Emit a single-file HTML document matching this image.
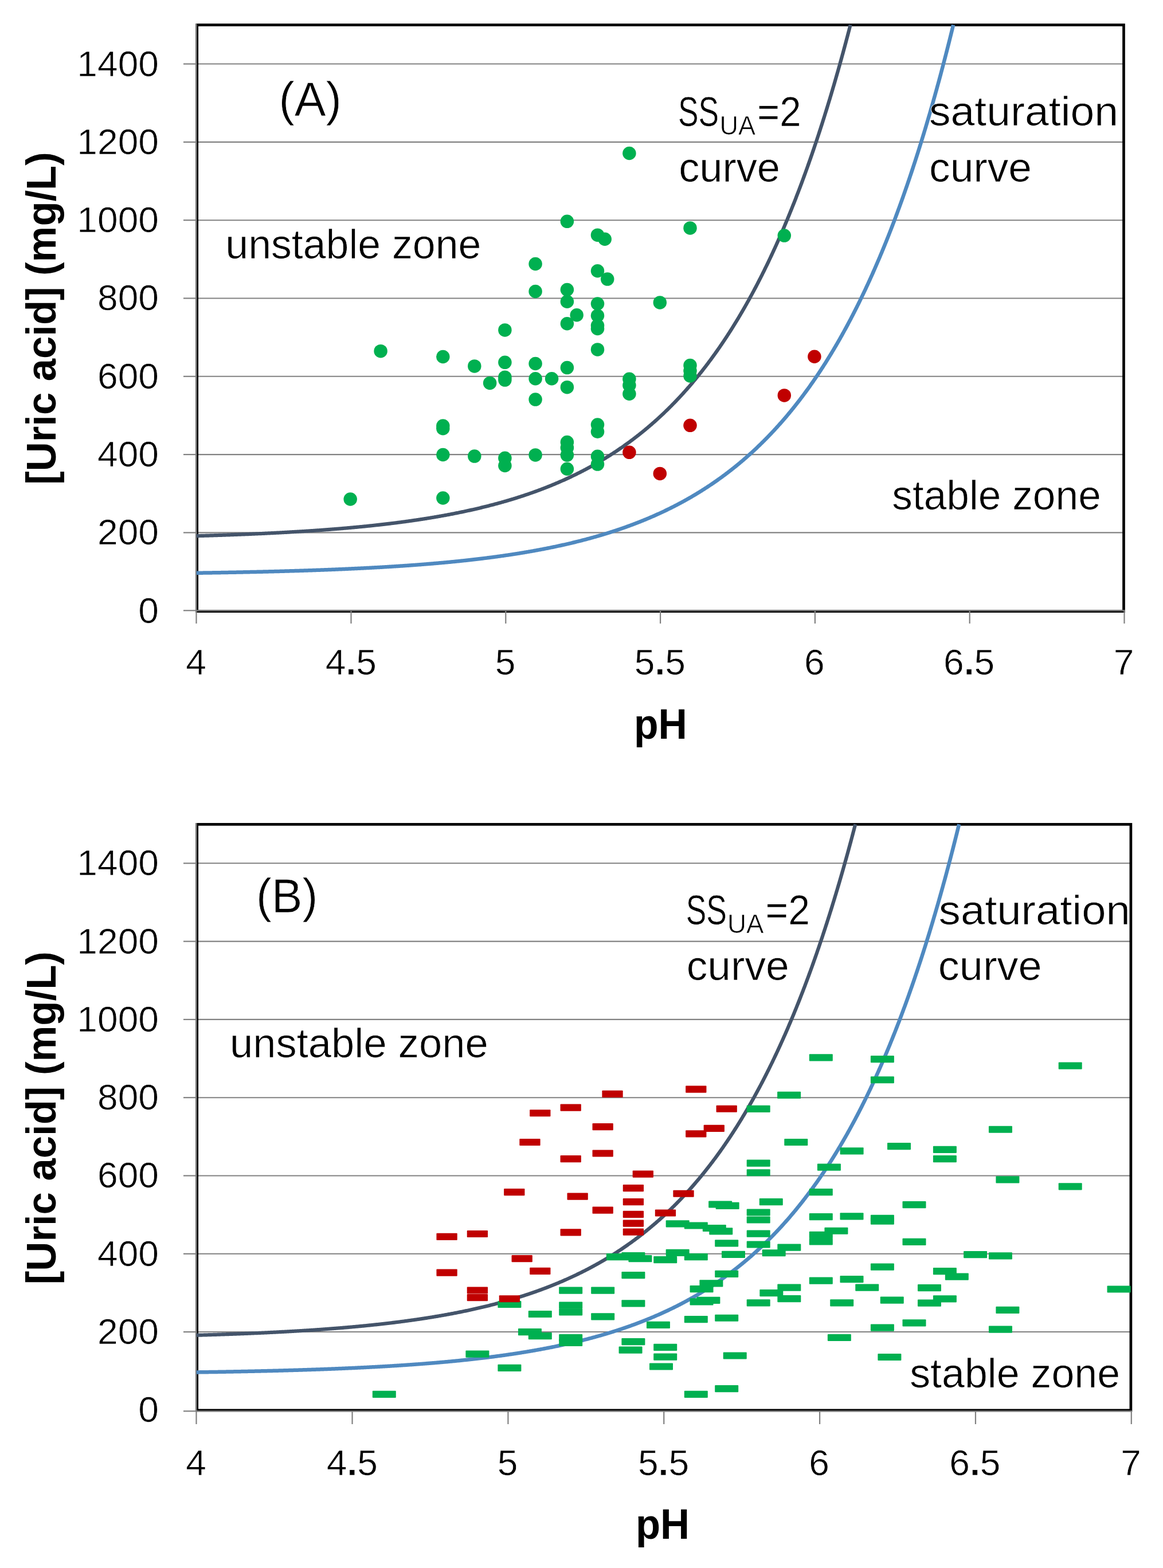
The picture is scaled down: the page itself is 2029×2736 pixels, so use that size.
<!DOCTYPE html>
<html><head><meta charset="utf-8"><title>Uric acid vs pH</title>
<style>
html,body{margin:0;padding:0;background:#fff;overflow:hidden;}
svg{display:block;}
text{font-family:"Liberation Sans",Arial,sans-serif;fill:#000;font-kerning:none;}
text.t{stroke:#fff;stroke-width:0.7px;}
</style></head><body>
<svg width="2029" height="2736" viewBox="0 0 2029 2736">
<rect x="0" y="0" width="2029" height="2736" fill="#fff"/>
<line x1="342.70" y1="929.40" x2="1961.50" y2="929.40" stroke="#818181" stroke-width="2.1"/>
<line x1="342.70" y1="793.09" x2="1961.50" y2="793.09" stroke="#818181" stroke-width="2.1"/>
<line x1="342.70" y1="656.79" x2="1961.50" y2="656.79" stroke="#818181" stroke-width="2.1"/>
<line x1="342.70" y1="520.48" x2="1961.50" y2="520.48" stroke="#818181" stroke-width="2.1"/>
<line x1="342.70" y1="384.18" x2="1961.50" y2="384.18" stroke="#818181" stroke-width="2.1"/>
<line x1="342.70" y1="247.88" x2="1961.50" y2="247.88" stroke="#818181" stroke-width="2.1"/>
<line x1="342.70" y1="111.57" x2="1961.50" y2="111.57" stroke="#818181" stroke-width="2.1"/>
<rect x="343.70" y="43.50" width="1616.80" height="1023.10" fill="none" stroke="#000" stroke-width="4.7"/>
<line x1="342.50" y1="41.20" x2="342.50" y2="1065.30" stroke="#818181" stroke-width="2.2"/>
<line x1="342.50" y1="1065.30" x2="1962.80" y2="1065.30" stroke="#818181" stroke-width="2.2"/>
<path d="M342.70,935.17 L343.78,935.14 L344.86,935.11 L345.94,935.08 L347.02,935.04 L348.10,935.01 L349.18,934.98 L350.25,934.95 L351.33,934.92 L352.41,934.89 L353.49,934.86 L354.57,934.82 L355.65,934.79 L356.73,934.76 L357.81,934.73 L358.89,934.69 L359.97,934.66 L361.05,934.63 L362.13,934.59 L363.20,934.56 L364.28,934.53 L365.36,934.49 L366.44,934.46 L367.52,934.43 L368.60,934.39 L369.68,934.36 L370.76,934.32 L371.84,934.29 L372.92,934.25 L374.00,934.22 L375.08,934.18 L376.16,934.15 L377.23,934.11 L378.31,934.08 L379.39,934.04 L380.47,934.01 L381.55,933.97 L382.63,933.93 L383.71,933.90 L384.79,933.86 L385.87,933.82 L386.95,933.79 L388.03,933.75 L389.11,933.71 L390.18,933.68 L391.26,933.64 L392.34,933.60 L393.42,933.56 L394.50,933.52 L395.58,933.49 L396.66,933.45 L397.74,933.41 L398.82,933.37 L399.90,933.33 L400.98,933.29 L402.06,933.25 L403.14,933.21 L404.21,933.17 L405.29,933.13 L406.37,933.09 L407.45,933.05 L408.53,933.01 L409.61,932.97 L410.69,932.93 L411.77,932.89 L412.85,932.85 L413.93,932.81 L415.01,932.76 L416.09,932.72 L417.16,932.68 L418.24,932.64 L419.32,932.60 L420.40,932.55 L421.48,932.51 L422.56,932.47 L423.64,932.42 L424.72,932.38 L425.80,932.34 L426.88,932.29 L427.96,932.25 L429.04,932.20 L430.12,932.16 L431.19,932.12 L432.27,932.07 L433.35,932.03 L434.43,931.98 L435.51,931.93 L436.59,931.89 L437.67,931.84 L438.75,931.80 L439.83,931.75 L440.91,931.70 L441.99,931.66 L443.07,931.61 L444.14,931.56 L445.22,931.51 L446.30,931.47 L447.38,931.42 L448.46,931.37 L449.54,931.32 L450.62,931.27 L451.70,931.23 L452.78,931.18 L453.86,931.13 L454.94,931.08 L456.02,931.03 L457.10,930.98 L458.17,930.93 L459.25,930.88 L460.33,930.83 L461.41,930.78 L462.49,930.72 L463.57,930.67 L464.65,930.62 L465.73,930.57 L466.81,930.52 L467.89,930.47 L468.97,930.41 L470.05,930.36 L471.12,930.31 L472.20,930.25 L473.28,930.20 L474.36,930.15 L475.44,930.09 L476.52,930.04 L477.60,929.98 L478.68,929.93 L479.76,929.87 L480.84,929.82 L481.92,929.76 L483.00,929.71 L484.08,929.65 L485.15,929.59 L486.23,929.54 L487.31,929.48 L488.39,929.42 L489.47,929.37 L490.55,929.31 L491.63,929.25 L492.71,929.19 L493.79,929.13 L494.87,929.07 L495.95,929.02 L497.03,928.96 L498.10,928.90 L499.18,928.84 L500.26,928.78 L501.34,928.72 L502.42,928.66 L503.50,928.59 L504.58,928.53 L505.66,928.47 L506.74,928.41 L507.82,928.35 L508.90,928.28 L509.98,928.22 L511.06,928.16 L512.13,928.10 L513.21,928.03 L514.29,927.97 L515.37,927.90 L516.45,927.84 L517.53,927.77 L518.61,927.71 L519.69,927.64 L520.77,927.58 L521.85,927.51 L522.93,927.45 L524.01,927.38 L525.08,927.31 L526.16,927.25 L527.24,927.18 L528.32,927.11 L529.40,927.04 L530.48,926.97 L531.56,926.90 L532.64,926.83 L533.72,926.77 L534.80,926.70 L535.88,926.63 L536.96,926.55 L538.04,926.48 L539.11,926.41 L540.19,926.34 L541.27,926.27 L542.35,926.20 L543.43,926.12 L544.51,926.05 L545.59,925.98 L546.67,925.91 L547.75,925.83 L548.83,925.76 L549.91,925.68 L550.99,925.61 L552.06,925.53 L553.14,925.46 L554.22,925.38 L555.30,925.31 L556.38,925.23 L557.46,925.15 L558.54,925.07 L559.62,925.00 L560.70,924.92 L561.78,924.84 L562.86,924.76 L563.94,924.68 L565.02,924.60 L566.09,924.52 L567.17,924.44 L568.25,924.36 L569.33,924.28 L570.41,924.20 L571.49,924.12 L572.57,924.04 L573.65,923.95 L574.73,923.87 L575.81,923.79 L576.89,923.70 L577.97,923.62 L579.04,923.53 L580.12,923.45 L581.20,923.36 L582.28,923.28 L583.36,923.19 L584.44,923.11 L585.52,923.02 L586.60,922.93 L587.68,922.84 L588.76,922.76 L589.84,922.67 L590.92,922.58 L592.00,922.49 L593.07,922.40 L594.15,922.31 L595.23,922.22 L596.31,922.13 L597.39,922.04 L598.47,921.94 L599.55,921.85 L600.63,921.76 L601.71,921.67 L602.79,921.57 L603.87,921.48 L604.95,921.38 L606.02,921.29 L607.10,921.19 L608.18,921.10 L609.26,921.00 L610.34,920.90 L611.42,920.81 L612.50,920.71 L613.58,920.61 L614.66,920.51 L615.74,920.41 L616.82,920.31 L617.90,920.21 L618.98,920.11 L620.05,920.01 L621.13,919.91 L622.21,919.81 L623.29,919.71 L624.37,919.61 L625.45,919.50 L626.53,919.40 L627.61,919.29 L628.69,919.19 L629.77,919.08 L630.85,918.98 L631.93,918.87 L633.00,918.77 L634.08,918.66 L635.16,918.55 L636.24,918.44 L637.32,918.33 L638.40,918.23 L639.48,918.12 L640.56,918.01 L641.64,917.90 L642.72,917.78 L643.80,917.67 L644.88,917.56 L645.96,917.45 L647.03,917.33 L648.11,917.22 L649.19,917.11 L650.27,916.99 L651.35,916.88 L652.43,916.76 L653.51,916.64 L654.59,916.53 L655.67,916.41 L656.75,916.29 L657.83,916.17 L658.91,916.05 L659.98,915.93 L661.06,915.81 L662.14,915.69 L663.22,915.57 L664.30,915.45 L665.38,915.33 L666.46,915.20 L667.54,915.08 L668.62,914.95 L669.70,914.83 L670.78,914.70 L671.86,914.58 L672.94,914.45 L674.01,914.32 L675.09,914.20 L676.17,914.07 L677.25,913.94 L678.33,913.81 L679.41,913.68 L680.49,913.55 L681.57,913.42 L682.65,913.28 L683.73,913.15 L684.81,913.02 L685.89,912.88 L686.96,912.75 L688.04,912.62 L689.12,912.48 L690.20,912.34 L691.28,912.21 L692.36,912.07 L693.44,911.93 L694.52,911.79 L695.60,911.65 L696.68,911.51 L697.76,911.37 L698.84,911.23 L699.92,911.09 L700.99,910.94 L702.07,910.80 L703.15,910.66 L704.23,910.51 L705.31,910.36 L706.39,910.22 L707.47,910.07 L708.55,909.92 L709.63,909.78 L710.71,909.63 L711.79,909.48 L712.87,909.33 L713.94,909.18 L715.02,909.02 L716.10,908.87 L717.18,908.72 L718.26,908.56 L719.34,908.41 L720.42,908.25 L721.50,908.10 L722.58,907.94 L723.66,907.78 L724.74,907.62 L725.82,907.47 L726.90,907.31 L727.97,907.15 L729.05,906.98 L730.13,906.82 L731.21,906.66 L732.29,906.50 L733.37,906.33 L734.45,906.17 L735.53,906.00 L736.61,905.83 L737.69,905.67 L738.77,905.50 L739.85,905.33 L740.92,905.16 L742.00,904.99 L743.08,904.82 L744.16,904.65 L745.24,904.47 L746.32,904.30 L747.40,904.12 L748.48,903.95 L749.56,903.77 L750.64,903.60 L751.72,903.42 L752.80,903.24 L753.88,903.06 L754.95,902.88 L756.03,902.70 L757.11,902.52 L758.19,902.33 L759.27,902.15 L760.35,901.96 L761.43,901.78 L762.51,901.59 L763.59,901.41 L764.67,901.22 L765.75,901.03 L766.83,900.84 L767.90,900.65 L768.98,900.46 L770.06,900.26 L771.14,900.07 L772.22,899.88 L773.30,899.68 L774.38,899.49 L775.46,899.29 L776.54,899.09 L777.62,898.89 L778.70,898.69 L779.78,898.49 L780.86,898.29 L781.93,898.09 L783.01,897.88 L784.09,897.68 L785.17,897.47 L786.25,897.27 L787.33,897.06 L788.41,896.85 L789.49,896.64 L790.57,896.43 L791.65,896.22 L792.73,896.01 L793.81,895.80 L794.88,895.58 L795.96,895.37 L797.04,895.15 L798.12,894.93 L799.20,894.71 L800.28,894.49 L801.36,894.27 L802.44,894.05 L803.52,893.83 L804.60,893.61 L805.68,893.38 L806.76,893.16 L807.84,892.93 L808.91,892.70 L809.99,892.48 L811.07,892.25 L812.15,892.01 L813.23,891.78 L814.31,891.55 L815.39,891.32 L816.47,891.08 L817.55,890.84 L818.63,890.61 L819.71,890.37 L820.79,890.13 L821.86,889.89 L822.94,889.65 L824.02,889.40 L825.10,889.16 L826.18,888.92 L827.26,888.67 L828.34,888.42 L829.42,888.17 L830.50,887.92 L831.58,887.67 L832.66,887.42 L833.74,887.17 L834.82,886.91 L835.89,886.66 L836.97,886.40 L838.05,886.14 L839.13,885.88 L840.21,885.62 L841.29,885.36 L842.37,885.10 L843.45,884.83 L844.53,884.57 L845.61,884.30 L846.69,884.03 L847.77,883.77 L848.84,883.49 L849.92,883.22 L851.00,882.95 L852.08,882.68 L853.16,882.40 L854.24,882.12 L855.32,881.85 L856.40,881.57 L857.48,881.29 L858.56,881.00 L859.64,880.72 L860.72,880.44 L861.80,880.15 L862.87,879.86 L863.95,879.58 L865.03,879.29 L866.11,878.99 L867.19,878.70 L868.27,878.41 L869.35,878.11 L870.43,877.82 L871.51,877.52 L872.59,877.22 L873.67,876.92 L874.75,876.62 L875.82,876.31 L876.90,876.01 L877.98,875.70 L879.06,875.39 L880.14,875.08 L881.22,874.77 L882.30,874.46 L883.38,874.15 L884.46,873.83 L885.54,873.52 L886.62,873.20 L887.70,872.88 L888.78,872.56 L889.85,872.23 L890.93,871.91 L892.01,871.58 L893.09,871.26 L894.17,870.93 L895.25,870.60 L896.33,870.27 L897.41,869.93 L898.49,869.60 L899.57,869.26 L900.65,868.93 L901.73,868.59 L902.80,868.24 L903.88,867.90 L904.96,867.56 L906.04,867.21 L907.12,866.86 L908.20,866.52 L909.28,866.16 L910.36,865.81 L911.44,865.46 L912.52,865.10 L913.60,864.75 L914.68,864.39 L915.76,864.03 L916.83,863.66 L917.91,863.30 L918.99,862.93 L920.07,862.57 L921.15,862.20 L922.23,861.83 L923.31,861.45 L924.39,861.08 L925.47,860.70 L926.55,860.33 L927.63,859.95 L928.71,859.56 L929.78,859.18 L930.86,858.80 L931.94,858.41 L933.02,858.02 L934.10,857.63 L935.18,857.24 L936.26,856.85 L937.34,856.45 L938.42,856.05 L939.50,855.65 L940.58,855.25 L941.66,854.85 L942.74,854.44 L943.81,854.04 L944.89,853.63 L945.97,853.22 L947.05,852.80 L948.13,852.39 L949.21,851.97 L950.29,851.55 L951.37,851.13 L952.45,850.71 L953.53,850.29 L954.61,849.86 L955.69,849.43 L956.76,849.00 L957.84,848.57 L958.92,848.13 L960.00,847.70 L961.08,847.26 L962.16,846.82 L963.24,846.38 L964.32,845.93 L965.40,845.49 L966.48,845.04 L967.56,844.59 L968.64,844.13 L969.72,843.68 L970.79,843.22 L971.87,842.76 L972.95,842.30 L974.03,841.84 L975.11,841.37 L976.19,840.90 L977.27,840.43 L978.35,839.96 L979.43,839.49 L980.51,839.01 L981.59,838.53 L982.67,838.05 L983.74,837.57 L984.82,837.08 L985.90,836.59 L986.98,836.10 L988.06,835.61 L989.14,835.11 L990.22,834.62 L991.30,834.12 L992.38,833.62 L993.46,833.11 L994.54,832.61 L995.62,832.10 L996.70,831.59 L997.77,831.07 L998.85,830.56 L999.93,830.04 L1001.01,829.52 L1002.09,828.99 L1003.17,828.47 L1004.25,827.94 L1005.33,827.41 L1006.41,826.88 L1007.49,826.34 L1008.57,825.80 L1009.65,825.26 L1010.72,824.72 L1011.80,824.17 L1012.88,823.63 L1013.96,823.08 L1015.04,822.52 L1016.12,821.97 L1017.20,821.41 L1018.28,820.85 L1019.36,820.28 L1020.44,819.72 L1021.52,819.15 L1022.60,818.58 L1023.68,818.00 L1024.75,817.43 L1025.83,816.85 L1026.91,816.26 L1027.99,815.68 L1029.07,815.09 L1030.15,814.50 L1031.23,813.91 L1032.31,813.31 L1033.39,812.71 L1034.47,812.11 L1035.55,811.51 L1036.63,810.90 L1037.70,810.29 L1038.78,809.68 L1039.86,809.06 L1040.94,808.44 L1042.02,807.82 L1043.10,807.20 L1044.18,806.57 L1045.26,805.94 L1046.34,805.31 L1047.42,804.67 L1048.50,804.03 L1049.58,803.39 L1050.66,802.75 L1051.73,802.10 L1052.81,801.45 L1053.89,800.79 L1054.97,800.14 L1056.05,799.48 L1057.13,798.81 L1058.21,798.15 L1059.29,797.48 L1060.37,796.80 L1061.45,796.13 L1062.53,795.45 L1063.61,794.77 L1064.68,794.08 L1065.76,793.39 L1066.84,792.70 L1067.92,792.01 L1069.00,791.31 L1070.08,790.61 L1071.16,789.90 L1072.24,789.20 L1073.32,788.48 L1074.40,787.77 L1075.48,787.05 L1076.56,786.33 L1077.64,785.61 L1078.71,784.88 L1079.79,784.15 L1080.87,783.41 L1081.95,782.67 L1083.03,781.93 L1084.11,781.19 L1085.19,780.44 L1086.27,779.69 L1087.35,778.93 L1088.43,778.17 L1089.51,777.41 L1090.59,776.64 L1091.66,775.88 L1092.74,775.10 L1093.82,774.33 L1094.90,773.54 L1095.98,772.76 L1097.06,771.97 L1098.14,771.18 L1099.22,770.39 L1100.30,769.59 L1101.38,768.78 L1102.46,767.98 L1103.54,767.17 L1104.62,766.35 L1105.69,765.54 L1106.77,764.72 L1107.85,763.89 L1108.93,763.06 L1110.01,762.23 L1111.09,761.39 L1112.17,760.55 L1113.25,759.71 L1114.33,758.86 L1115.41,758.00 L1116.49,757.15 L1117.57,756.29 L1118.64,755.42 L1119.72,754.55 L1120.80,753.68 L1121.88,752.81 L1122.96,751.92 L1124.04,751.04 L1125.12,750.15 L1126.20,749.26 L1127.28,748.36 L1128.36,747.46 L1129.44,746.55 L1130.52,745.64 L1131.60,744.73 L1132.67,743.81 L1133.75,742.89 L1134.83,741.96 L1135.91,741.03 L1136.99,740.09 L1138.07,739.15 L1139.15,738.21 L1140.23,737.26 L1141.31,736.31 L1142.39,735.35 L1143.47,734.39 L1144.55,733.42 L1145.62,732.45 L1146.70,731.47 L1147.78,730.49 L1148.86,729.51 L1149.94,728.52 L1151.02,727.52 L1152.10,726.53 L1153.18,725.52 L1154.26,724.51 L1155.34,723.50 L1156.42,722.48 L1157.50,721.46 L1158.58,720.44 L1159.65,719.40 L1160.73,718.37 L1161.81,717.33 L1162.89,716.28 L1163.97,715.23 L1165.05,714.17 L1166.13,713.11 L1167.21,712.05 L1168.29,710.98 L1169.37,709.90 L1170.45,708.82 L1171.53,707.73 L1172.60,706.64 L1173.68,705.55 L1174.76,704.45 L1175.84,703.34 L1176.92,702.23 L1178.00,701.11 L1179.08,699.99 L1180.16,698.86 L1181.24,697.73 L1182.32,696.59 L1183.40,695.45 L1184.48,694.30 L1185.56,693.15 L1186.63,691.99 L1187.71,690.82 L1188.79,689.65 L1189.87,688.48 L1190.95,687.30 L1192.03,686.11 L1193.11,684.92 L1194.19,683.72 L1195.27,682.52 L1196.35,681.31 L1197.43,680.10 L1198.51,678.88 L1199.58,677.65 L1200.66,676.42 L1201.74,675.19 L1202.82,673.94 L1203.90,672.69 L1204.98,671.44 L1206.06,670.18 L1207.14,668.91 L1208.22,667.64 L1209.30,666.36 L1210.38,665.08 L1211.46,663.79 L1212.54,662.49 L1213.61,661.19 L1214.69,659.89 L1215.77,658.57 L1216.85,657.25 L1217.93,655.92 L1219.01,654.59 L1220.09,653.25 L1221.17,651.91 L1222.25,650.56 L1223.33,649.20 L1224.41,647.84 L1225.49,646.47 L1226.56,645.09 L1227.64,643.71 L1228.72,642.32 L1229.80,640.92 L1230.88,639.52 L1231.96,638.11 L1233.04,636.70 L1234.12,635.27 L1235.20,633.84 L1236.28,632.41 L1237.36,630.97 L1238.44,629.52 L1239.52,628.06 L1240.59,626.60 L1241.67,625.13 L1242.75,623.66 L1243.83,622.17 L1244.91,620.68 L1245.99,619.19 L1247.07,617.68 L1248.15,616.17 L1249.23,614.65 L1250.31,613.13 L1251.39,611.60 L1252.47,610.06 L1253.54,608.51 L1254.62,606.96 L1255.70,605.40 L1256.78,603.83 L1257.86,602.25 L1258.94,600.67 L1260.02,599.08 L1261.10,597.48 L1262.18,595.88 L1263.26,594.27 L1264.34,592.65 L1265.42,591.02 L1266.50,589.38 L1267.57,587.74 L1268.65,586.09 L1269.73,584.43 L1270.81,582.77 L1271.89,581.09 L1272.97,579.41 L1274.05,577.72 L1275.13,576.03 L1276.21,574.32 L1277.29,572.61 L1278.37,570.89 L1279.45,569.16 L1280.52,567.42 L1281.60,565.68 L1282.68,563.92 L1283.76,562.16 L1284.84,560.39 L1285.92,558.62 L1287.00,556.83 L1288.08,555.04 L1289.16,553.23 L1290.24,551.42 L1291.32,549.60 L1292.40,547.77 L1293.48,545.94 L1294.55,544.09 L1295.63,542.24 L1296.71,540.38 L1297.79,538.50 L1298.87,536.63 L1299.95,534.74 L1301.03,532.84 L1302.11,530.93 L1303.19,529.02 L1304.27,527.09 L1305.35,525.16 L1306.43,523.22 L1307.50,521.27 L1308.58,519.31 L1309.66,517.34 L1310.74,515.36 L1311.82,513.37 L1312.90,511.38 L1313.98,509.37 L1315.06,507.35 L1316.14,505.33 L1317.22,503.29 L1318.30,501.25 L1319.38,499.20 L1320.46,497.13 L1321.53,495.06 L1322.61,492.98 L1323.69,490.89 L1324.77,488.78 L1325.85,486.67 L1326.93,484.55 L1328.01,482.42 L1329.09,480.28 L1330.17,478.13 L1331.25,475.97 L1332.33,473.79 L1333.41,471.61 L1334.48,469.42 L1335.56,467.22 L1336.64,465.01 L1337.72,462.79 L1338.80,460.55 L1339.88,458.31 L1340.96,456.06 L1342.04,453.79 L1343.12,451.52 L1344.20,449.23 L1345.28,446.94 L1346.36,444.63 L1347.44,442.31 L1348.51,439.98 L1349.59,437.64 L1350.67,435.29 L1351.75,432.93 L1352.83,430.56 L1353.91,428.18 L1354.99,425.78 L1356.07,423.38 L1357.15,420.96 L1358.23,418.53 L1359.31,416.10 L1360.39,413.64 L1361.46,411.18 L1362.54,408.71 L1363.62,406.22 L1364.70,403.73 L1365.78,401.22 L1366.86,398.70 L1367.94,396.17 L1369.02,393.63 L1370.10,391.07 L1371.18,388.50 L1372.26,385.92 L1373.34,383.33 L1374.42,380.73 L1375.49,378.11 L1376.57,375.49 L1377.65,372.85 L1378.73,370.19 L1379.81,367.53 L1380.89,364.85 L1381.97,362.16 L1383.05,359.46 L1384.13,356.75 L1385.21,354.02 L1386.29,351.28 L1387.37,348.53 L1388.44,345.76 L1389.52,342.98 L1390.60,340.19 L1391.68,337.39 L1392.76,334.57 L1393.84,331.74 L1394.92,328.90 L1396.00,326.04 L1397.08,323.17 L1398.16,320.29 L1399.24,317.39 L1400.32,314.48 L1401.40,311.55 L1402.47,308.62 L1403.55,305.67 L1404.63,302.70 L1405.71,299.72 L1406.79,296.73 L1407.87,293.72 L1408.95,290.70 L1410.03,287.66 L1411.11,284.62 L1412.19,281.55 L1413.27,278.47 L1414.35,275.38 L1415.42,272.28 L1416.50,269.16 L1417.58,266.02 L1418.66,262.87 L1419.74,259.71 L1420.82,256.53 L1421.90,253.33 L1422.98,250.12 L1424.06,246.90 L1425.14,243.66 L1426.22,240.40 L1427.30,237.13 L1428.38,233.85 L1429.45,230.55 L1430.53,227.23 L1431.61,223.90 L1432.69,220.56 L1433.77,217.20 L1434.85,213.82 L1435.93,210.42 L1437.01,207.01 L1438.09,203.59 L1439.17,200.15 L1440.25,196.69 L1441.33,193.22 L1442.40,189.73 L1443.48,186.22 L1444.56,182.70 L1445.64,179.16 L1446.72,175.61 L1447.80,172.04 L1448.88,168.45 L1449.96,164.84 L1451.04,161.22 L1452.12,157.58 L1453.20,153.93 L1454.28,150.25 L1455.36,146.56 L1456.43,142.86 L1457.51,139.13 L1458.59,135.39 L1459.67,131.63 L1460.75,127.86 L1461.83,124.06 L1462.91,120.25 L1463.99,116.42 L1465.07,112.57 L1466.15,108.71 L1467.23,104.82 L1468.31,100.92 L1469.38,97.00 L1470.46,93.06 L1471.54,89.11 L1472.62,85.13 L1473.70,81.14 L1474.78,77.13 L1475.86,73.10 L1476.94,69.05 L1478.02,64.98 L1479.10,60.89 L1480.18,56.79 L1481.26,52.66 L1482.34,48.52 L1483.41,44.35 L1483.66,43.42" fill="none" stroke="#44546A" stroke-width="6.2" stroke-linejoin="round"/>
<path d="M342.70,999.80 L343.78,999.78 L344.86,999.77 L345.94,999.75 L347.02,999.73 L348.10,999.72 L349.18,999.70 L350.25,999.69 L351.33,999.67 L352.41,999.65 L353.49,999.64 L354.57,999.62 L355.65,999.60 L356.73,999.59 L357.81,999.57 L358.89,999.55 L359.97,999.54 L361.05,999.52 L362.13,999.50 L363.20,999.49 L364.28,999.47 L365.36,999.45 L366.44,999.43 L367.52,999.42 L368.60,999.40 L369.68,999.38 L370.76,999.36 L371.84,999.35 L372.92,999.33 L374.00,999.31 L375.08,999.29 L376.16,999.27 L377.23,999.26 L378.31,999.24 L379.39,999.22 L380.47,999.20 L381.55,999.18 L382.63,999.16 L383.71,999.15 L384.79,999.13 L385.87,999.11 L386.95,999.09 L388.03,999.07 L389.11,999.05 L390.18,999.03 L391.26,999.01 L392.34,998.99 L393.42,998.97 L394.50,998.95 L395.58,998.93 L396.66,998.91 L397.74,998.89 L398.82,998.87 L399.90,998.85 L400.98,998.83 L402.06,998.81 L403.14,998.79 L404.21,998.77 L405.29,998.75 L406.37,998.73 L407.45,998.71 L408.53,998.69 L409.61,998.67 L410.69,998.65 L411.77,998.63 L412.85,998.61 L413.93,998.59 L415.01,998.56 L416.09,998.54 L417.16,998.52 L418.24,998.50 L419.32,998.48 L420.40,998.46 L421.48,998.43 L422.56,998.41 L423.64,998.39 L424.72,998.37 L425.80,998.35 L426.88,998.32 L427.96,998.30 L429.04,998.28 L430.12,998.26 L431.19,998.23 L432.27,998.21 L433.35,998.19 L434.43,998.16 L435.51,998.14 L436.59,998.12 L437.67,998.09 L438.75,998.07 L439.83,998.05 L440.91,998.02 L441.99,998.00 L443.07,997.97 L444.14,997.95 L445.22,997.93 L446.30,997.90 L447.38,997.88 L448.46,997.85 L449.54,997.83 L450.62,997.80 L451.70,997.78 L452.78,997.75 L453.86,997.73 L454.94,997.70 L456.02,997.68 L457.10,997.65 L458.17,997.63 L459.25,997.60 L460.33,997.57 L461.41,997.55 L462.49,997.52 L463.57,997.50 L464.65,997.47 L465.73,997.44 L466.81,997.42 L467.89,997.39 L468.97,997.36 L470.05,997.34 L471.12,997.31 L472.20,997.28 L473.28,997.25 L474.36,997.23 L475.44,997.20 L476.52,997.17 L477.60,997.14 L478.68,997.12 L479.76,997.09 L480.84,997.06 L481.92,997.03 L483.00,997.00 L484.08,996.97 L485.15,996.94 L486.23,996.92 L487.31,996.89 L488.39,996.86 L489.47,996.83 L490.55,996.80 L491.63,996.77 L492.71,996.74 L493.79,996.71 L494.87,996.68 L495.95,996.65 L497.03,996.62 L498.10,996.59 L499.18,996.56 L500.26,996.53 L501.34,996.50 L502.42,996.47 L503.50,996.43 L504.58,996.40 L505.66,996.37 L506.74,996.34 L507.82,996.31 L508.90,996.28 L509.98,996.25 L511.06,996.21 L512.13,996.18 L513.21,996.15 L514.29,996.12 L515.37,996.08 L516.45,996.05 L517.53,996.02 L518.61,995.98 L519.69,995.95 L520.77,995.92 L521.85,995.88 L522.93,995.85 L524.01,995.82 L525.08,995.78 L526.16,995.75 L527.24,995.71 L528.32,995.68 L529.40,995.64 L530.48,995.61 L531.56,995.57 L532.64,995.54 L533.72,995.50 L534.80,995.47 L535.88,995.43 L536.96,995.40 L538.04,995.36 L539.11,995.32 L540.19,995.29 L541.27,995.25 L542.35,995.21 L543.43,995.18 L544.51,995.14 L545.59,995.10 L546.67,995.06 L547.75,995.03 L548.83,994.99 L549.91,994.95 L550.99,994.91 L552.06,994.87 L553.14,994.84 L554.22,994.80 L555.30,994.76 L556.38,994.72 L557.46,994.68 L558.54,994.64 L559.62,994.60 L560.70,994.56 L561.78,994.52 L562.86,994.48 L563.94,994.44 L565.02,994.40 L566.09,994.36 L567.17,994.32 L568.25,994.28 L569.33,994.24 L570.41,994.20 L571.49,994.15 L572.57,994.11 L573.65,994.07 L574.73,994.03 L575.81,993.99 L576.89,993.94 L577.97,993.90 L579.04,993.86 L580.12,993.81 L581.20,993.77 L582.28,993.73 L583.36,993.68 L584.44,993.64 L585.52,993.60 L586.60,993.55 L587.68,993.51 L588.76,993.46 L589.84,993.42 L590.92,993.37 L592.00,993.33 L593.07,993.28 L594.15,993.23 L595.23,993.19 L596.31,993.14 L597.39,993.10 L598.47,993.05 L599.55,993.00 L600.63,992.95 L601.71,992.91 L602.79,992.86 L603.87,992.81 L604.95,992.76 L606.02,992.72 L607.10,992.67 L608.18,992.62 L609.26,992.57 L610.34,992.52 L611.42,992.47 L612.50,992.42 L613.58,992.37 L614.66,992.32 L615.74,992.27 L616.82,992.22 L617.90,992.17 L618.98,992.12 L620.05,992.07 L621.13,992.02 L622.21,991.97 L623.29,991.91 L624.37,991.86 L625.45,991.81 L626.53,991.76 L627.61,991.70 L628.69,991.65 L629.77,991.60 L630.85,991.54 L631.93,991.49 L633.00,991.44 L634.08,991.38 L635.16,991.33 L636.24,991.27 L637.32,991.22 L638.40,991.16 L639.48,991.11 L640.56,991.05 L641.64,990.99 L642.72,990.94 L643.80,990.88 L644.88,990.82 L645.96,990.77 L647.03,990.71 L648.11,990.65 L649.19,990.59 L650.27,990.53 L651.35,990.48 L652.43,990.42 L653.51,990.36 L654.59,990.30 L655.67,990.24 L656.75,990.18 L657.83,990.12 L658.91,990.06 L659.98,990.00 L661.06,989.94 L662.14,989.88 L663.22,989.81 L664.30,989.75 L665.38,989.69 L666.46,989.63 L667.54,989.56 L668.62,989.50 L669.70,989.44 L670.78,989.37 L671.86,989.31 L672.94,989.25 L674.01,989.18 L675.09,989.12 L676.17,989.05 L677.25,988.99 L678.33,988.92 L679.41,988.85 L680.49,988.79 L681.57,988.72 L682.65,988.66 L683.73,988.59 L684.81,988.52 L685.89,988.45 L686.96,988.38 L688.04,988.32 L689.12,988.25 L690.20,988.18 L691.28,988.11 L692.36,988.04 L693.44,987.97 L694.52,987.90 L695.60,987.83 L696.68,987.76 L697.76,987.69 L698.84,987.61 L699.92,987.54 L700.99,987.47 L702.07,987.40 L703.15,987.32 L704.23,987.25 L705.31,987.18 L706.39,987.10 L707.47,987.03 L708.55,986.95 L709.63,986.88 L710.71,986.80 L711.79,986.73 L712.87,986.65 L713.94,986.57 L715.02,986.50 L716.10,986.42 L717.18,986.34 L718.26,986.26 L719.34,986.19 L720.42,986.11 L721.50,986.03 L722.58,985.95 L723.66,985.87 L724.74,985.79 L725.82,985.71 L726.90,985.63 L727.97,985.55 L729.05,985.47 L730.13,985.38 L731.21,985.30 L732.29,985.22 L733.37,985.14 L734.45,985.05 L735.53,984.97 L736.61,984.88 L737.69,984.80 L738.77,984.71 L739.85,984.63 L740.92,984.54 L742.00,984.46 L743.08,984.37 L744.16,984.28 L745.24,984.20 L746.32,984.11 L747.40,984.02 L748.48,983.93 L749.56,983.84 L750.64,983.75 L751.72,983.66 L752.80,983.57 L753.88,983.48 L754.95,983.39 L756.03,983.30 L757.11,983.21 L758.19,983.11 L759.27,983.02 L760.35,982.93 L761.43,982.83 L762.51,982.74 L763.59,982.65 L764.67,982.55 L765.75,982.46 L766.83,982.36 L767.90,982.26 L768.98,982.17 L770.06,982.07 L771.14,981.97 L772.22,981.87 L773.30,981.77 L774.38,981.68 L775.46,981.58 L776.54,981.48 L777.62,981.38 L778.70,981.28 L779.78,981.17 L780.86,981.07 L781.93,980.97 L783.01,980.87 L784.09,980.76 L785.17,980.66 L786.25,980.56 L787.33,980.45 L788.41,980.35 L789.49,980.24 L790.57,980.13 L791.65,980.03 L792.73,979.92 L793.81,979.81 L794.88,979.70 L795.96,979.60 L797.04,979.49 L798.12,979.38 L799.20,979.27 L800.28,979.16 L801.36,979.05 L802.44,978.93 L803.52,978.82 L804.60,978.71 L805.68,978.60 L806.76,978.48 L807.84,978.37 L808.91,978.25 L809.99,978.14 L811.07,978.02 L812.15,977.91 L813.23,977.79 L814.31,977.67 L815.39,977.55 L816.47,977.44 L817.55,977.32 L818.63,977.20 L819.71,977.08 L820.79,976.96 L821.86,976.83 L822.94,976.71 L824.02,976.59 L825.10,976.47 L826.18,976.34 L827.26,976.22 L828.34,976.09 L829.42,975.97 L830.50,975.84 L831.58,975.72 L832.66,975.59 L833.74,975.46 L834.82,975.33 L835.89,975.21 L836.97,975.08 L838.05,974.95 L839.13,974.82 L840.21,974.68 L841.29,974.55 L842.37,974.42 L843.45,974.29 L844.53,974.15 L845.61,974.02 L846.69,973.88 L847.77,973.75 L848.84,973.61 L849.92,973.48 L851.00,973.34 L852.08,973.20 L853.16,973.06 L854.24,972.92 L855.32,972.78 L856.40,972.64 L857.48,972.50 L858.56,972.36 L859.64,972.22 L860.72,972.07 L861.80,971.93 L862.87,971.79 L863.95,971.64 L865.03,971.49 L866.11,971.35 L867.19,971.20 L868.27,971.05 L869.35,970.90 L870.43,970.75 L871.51,970.60 L872.59,970.45 L873.67,970.30 L874.75,970.15 L875.82,970.00 L876.90,969.84 L877.98,969.69 L879.06,969.54 L880.14,969.38 L881.22,969.22 L882.30,969.07 L883.38,968.91 L884.46,968.75 L885.54,968.59 L886.62,968.43 L887.70,968.27 L888.78,968.11 L889.85,967.95 L890.93,967.78 L892.01,967.62 L893.09,967.46 L894.17,967.29 L895.25,967.12 L896.33,966.96 L897.41,966.79 L898.49,966.62 L899.57,966.45 L900.65,966.28 L901.73,966.11 L902.80,965.94 L903.88,965.77 L904.96,965.60 L906.04,965.42 L907.12,965.25 L908.20,965.07 L909.28,964.90 L910.36,964.72 L911.44,964.54 L912.52,964.36 L913.60,964.18 L914.68,964.00 L915.76,963.82 L916.83,963.64 L917.91,963.46 L918.99,963.27 L920.07,963.09 L921.15,962.90 L922.23,962.72 L923.31,962.53 L924.39,962.34 L925.47,962.15 L926.55,961.96 L927.63,961.77 L928.71,961.58 L929.78,961.39 L930.86,961.20 L931.94,961.00 L933.02,960.81 L934.10,960.61 L935.18,960.41 L936.26,960.22 L937.34,960.02 L938.42,959.82 L939.50,959.62 L940.58,959.42 L941.66,959.21 L942.74,959.01 L943.81,958.81 L944.89,958.60 L945.97,958.39 L947.05,958.19 L948.13,957.98 L949.21,957.77 L950.29,957.56 L951.37,957.35 L952.45,957.14 L953.53,956.92 L954.61,956.71 L955.69,956.50 L956.76,956.28 L957.84,956.06 L958.92,955.85 L960.00,955.63 L961.08,955.41 L962.16,955.19 L963.24,954.96 L964.32,954.74 L965.40,954.52 L966.48,954.29 L967.56,954.07 L968.64,953.84 L969.72,953.61 L970.79,953.38 L971.87,953.15 L972.95,952.92 L974.03,952.69 L975.11,952.45 L976.19,952.22 L977.27,951.98 L978.35,951.75 L979.43,951.51 L980.51,951.27 L981.59,951.03 L982.67,950.79 L983.74,950.55 L984.82,950.30 L985.90,950.06 L986.98,949.81 L988.06,949.57 L989.14,949.32 L990.22,949.07 L991.30,948.82 L992.38,948.57 L993.46,948.32 L994.54,948.06 L995.62,947.81 L996.70,947.55 L997.77,947.29 L998.85,947.04 L999.93,946.78 L1001.01,946.52 L1002.09,946.25 L1003.17,945.99 L1004.25,945.73 L1005.33,945.46 L1006.41,945.19 L1007.49,944.93 L1008.57,944.66 L1009.65,944.39 L1010.72,944.11 L1011.80,943.84 L1012.88,943.57 L1013.96,943.29 L1015.04,943.01 L1016.12,942.74 L1017.20,942.46 L1018.28,942.18 L1019.36,941.89 L1020.44,941.61 L1021.52,941.33 L1022.60,941.04 L1023.68,940.75 L1024.75,940.46 L1025.83,940.17 L1026.91,939.88 L1027.99,939.59 L1029.07,939.30 L1030.15,939.00 L1031.23,938.70 L1032.31,938.41 L1033.39,938.11 L1034.47,937.81 L1035.55,937.50 L1036.63,937.20 L1037.70,936.89 L1038.78,936.59 L1039.86,936.28 L1040.94,935.97 L1042.02,935.66 L1043.10,935.35 L1044.18,935.03 L1045.26,934.72 L1046.34,934.40 L1047.42,934.08 L1048.50,933.77 L1049.58,933.44 L1050.66,933.12 L1051.73,932.80 L1052.81,932.47 L1053.89,932.15 L1054.97,931.82 L1056.05,931.49 L1057.13,931.16 L1058.21,930.82 L1059.29,930.49 L1060.37,930.15 L1061.45,929.82 L1062.53,929.48 L1063.61,929.14 L1064.68,928.79 L1065.76,928.45 L1066.84,928.10 L1067.92,927.76 L1069.00,927.41 L1070.08,927.06 L1071.16,926.71 L1072.24,926.35 L1073.32,926.00 L1074.40,925.64 L1075.48,925.28 L1076.56,924.92 L1077.64,924.56 L1078.71,924.20 L1079.79,923.83 L1080.87,923.46 L1081.95,923.10 L1083.03,922.73 L1084.11,922.35 L1085.19,921.98 L1086.27,921.60 L1087.35,921.23 L1088.43,920.85 L1089.51,920.47 L1090.59,920.09 L1091.66,919.70 L1092.74,919.32 L1093.82,918.93 L1094.90,918.54 L1095.98,918.15 L1097.06,917.75 L1098.14,917.36 L1099.22,916.96 L1100.30,916.56 L1101.38,916.16 L1102.46,915.76 L1103.54,915.36 L1104.62,914.95 L1105.69,914.54 L1106.77,914.13 L1107.85,913.72 L1108.93,913.31 L1110.01,912.89 L1111.09,912.48 L1112.17,912.06 L1113.25,911.64 L1114.33,911.21 L1115.41,910.79 L1116.49,910.36 L1117.57,909.93 L1118.64,909.50 L1119.72,909.07 L1120.80,908.63 L1121.88,908.19 L1122.96,907.76 L1124.04,907.31 L1125.12,906.87 L1126.20,906.43 L1127.28,905.98 L1128.36,905.53 L1129.44,905.08 L1130.52,904.62 L1131.60,904.17 L1132.67,903.71 L1133.75,903.25 L1134.83,902.79 L1135.91,902.33 L1136.99,901.86 L1138.07,901.39 L1139.15,900.92 L1140.23,900.45 L1141.31,899.97 L1142.39,899.50 L1143.47,899.02 L1144.55,898.53 L1145.62,898.05 L1146.70,897.57 L1147.78,897.08 L1148.86,896.59 L1149.94,896.09 L1151.02,895.60 L1152.10,895.10 L1153.18,894.60 L1154.26,894.10 L1155.34,893.60 L1156.42,893.09 L1157.50,892.58 L1158.58,892.07 L1159.65,891.56 L1160.73,891.04 L1161.81,890.52 L1162.89,890.00 L1163.97,889.48 L1165.05,888.95 L1166.13,888.42 L1167.21,887.89 L1168.29,887.36 L1169.37,886.82 L1170.45,886.29 L1171.53,885.75 L1172.60,885.20 L1173.68,884.66 L1174.76,884.11 L1175.84,883.56 L1176.92,883.01 L1178.00,882.45 L1179.08,881.89 L1180.16,881.33 L1181.24,880.77 L1182.32,880.20 L1183.40,879.64 L1184.48,879.06 L1185.56,878.49 L1186.63,877.91 L1187.71,877.34 L1188.79,876.75 L1189.87,876.17 L1190.95,875.58 L1192.03,874.99 L1193.11,874.40 L1194.19,873.80 L1195.27,873.21 L1196.35,872.61 L1197.43,872.00 L1198.51,871.40 L1199.58,870.79 L1200.66,870.17 L1201.74,869.56 L1202.82,868.94 L1203.90,868.32 L1204.98,867.70 L1206.06,867.07 L1207.14,866.44 L1208.22,865.81 L1209.30,865.18 L1210.38,864.54 L1211.46,863.90 L1212.54,863.25 L1213.61,862.61 L1214.69,861.96 L1215.77,861.30 L1216.85,860.65 L1217.93,859.99 L1219.01,859.33 L1220.09,858.66 L1221.17,857.99 L1222.25,857.32 L1223.33,856.65 L1224.41,855.97 L1225.49,855.29 L1226.56,854.61 L1227.64,853.92 L1228.72,853.23 L1229.80,852.54 L1230.88,851.84 L1231.96,851.14 L1233.04,850.44 L1234.12,849.73 L1235.20,849.02 L1236.28,848.31 L1237.36,847.60 L1238.44,846.88 L1239.52,846.15 L1240.59,845.43 L1241.67,844.70 L1242.75,843.97 L1243.83,843.23 L1244.91,842.49 L1245.99,841.75 L1247.07,841.00 L1248.15,840.25 L1249.23,839.50 L1250.31,838.74 L1251.39,837.98 L1252.47,837.22 L1253.54,836.45 L1254.62,835.68 L1255.70,834.91 L1256.78,834.13 L1257.86,833.35 L1258.94,832.56 L1260.02,831.77 L1261.10,830.98 L1262.18,830.19 L1263.26,829.39 L1264.34,828.58 L1265.42,827.78 L1266.50,826.97 L1267.57,826.15 L1268.65,825.33 L1269.73,824.51 L1270.81,823.69 L1271.89,822.86 L1272.97,822.02 L1274.05,821.18 L1275.13,820.34 L1276.21,819.50 L1277.29,818.65 L1278.37,817.80 L1279.45,816.94 L1280.52,816.08 L1281.60,815.21 L1282.68,814.35 L1283.76,813.47 L1284.84,812.60 L1285.92,811.71 L1287.00,810.83 L1288.08,809.94 L1289.16,809.05 L1290.24,808.15 L1291.32,807.25 L1292.40,806.34 L1293.48,805.43 L1294.55,804.52 L1295.63,803.60 L1296.71,802.68 L1297.79,801.75 L1298.87,800.82 L1299.95,799.89 L1301.03,798.95 L1302.11,798.00 L1303.19,797.05 L1304.27,796.10 L1305.35,795.14 L1306.43,794.18 L1307.50,793.22 L1308.58,792.25 L1309.66,791.27 L1310.74,790.29 L1311.82,789.31 L1312.90,788.32 L1313.98,787.33 L1315.06,786.33 L1316.14,785.33 L1317.22,784.32 L1318.30,783.31 L1319.38,782.29 L1320.46,781.27 L1321.53,780.24 L1322.61,779.21 L1323.69,778.18 L1324.77,777.14 L1325.85,776.09 L1326.93,775.04 L1328.01,773.99 L1329.09,772.93 L1330.17,771.87 L1331.25,770.80 L1332.33,769.72 L1333.41,768.64 L1334.48,767.56 L1335.56,766.47 L1336.64,765.38 L1337.72,764.28 L1338.80,763.17 L1339.88,762.06 L1340.96,760.95 L1342.04,759.83 L1343.12,758.70 L1344.20,757.57 L1345.28,756.44 L1346.36,755.30 L1347.44,754.15 L1348.51,753.00 L1349.59,751.85 L1350.67,750.68 L1351.75,749.52 L1352.83,748.35 L1353.91,747.17 L1354.99,745.98 L1356.07,744.80 L1357.15,743.60 L1358.23,742.40 L1359.31,741.20 L1360.39,739.98 L1361.46,738.77 L1362.54,737.55 L1363.62,736.32 L1364.70,735.09 L1365.78,733.85 L1366.86,732.60 L1367.94,731.35 L1369.02,730.09 L1370.10,728.83 L1371.18,727.56 L1372.26,726.29 L1373.34,725.01 L1374.42,723.72 L1375.49,722.43 L1376.57,721.14 L1377.65,719.83 L1378.73,718.52 L1379.81,717.21 L1380.89,715.88 L1381.97,714.56 L1383.05,713.22 L1384.13,711.88 L1385.21,710.54 L1386.29,709.18 L1387.37,707.82 L1388.44,706.46 L1389.52,705.09 L1390.60,703.71 L1391.68,702.33 L1392.76,700.94 L1393.84,699.54 L1394.92,698.14 L1396.00,696.73 L1397.08,695.31 L1398.16,693.89 L1399.24,692.46 L1400.32,691.02 L1401.40,689.58 L1402.47,688.13 L1403.55,686.67 L1404.63,685.21 L1405.71,683.74 L1406.79,682.26 L1407.87,680.78 L1408.95,679.29 L1410.03,677.79 L1411.11,676.29 L1412.19,674.78 L1413.27,673.26 L1414.35,671.73 L1415.42,670.20 L1416.50,668.66 L1417.58,667.12 L1418.66,665.56 L1419.74,664.00 L1420.82,662.44 L1421.90,660.86 L1422.98,659.28 L1424.06,657.69 L1425.14,656.09 L1426.22,654.49 L1427.30,652.88 L1428.38,651.26 L1429.45,649.63 L1430.53,648.00 L1431.61,646.36 L1432.69,644.71 L1433.77,643.05 L1434.85,641.39 L1435.93,639.71 L1437.01,638.03 L1438.09,636.35 L1439.17,634.65 L1440.25,632.95 L1441.33,631.24 L1442.40,629.52 L1443.48,627.79 L1444.56,626.05 L1445.64,624.31 L1446.72,622.56 L1447.80,620.80 L1448.88,619.03 L1449.96,617.26 L1451.04,615.47 L1452.12,613.68 L1453.20,611.88 L1454.28,610.07 L1455.36,608.26 L1456.43,606.43 L1457.51,604.60 L1458.59,602.76 L1459.67,600.90 L1460.75,599.05 L1461.83,597.18 L1462.91,595.30 L1463.99,593.42 L1465.07,591.52 L1466.15,589.62 L1467.23,587.71 L1468.31,585.79 L1469.38,583.86 L1470.46,581.92 L1471.54,579.97 L1472.62,578.02 L1473.70,576.05 L1474.78,574.08 L1475.86,572.10 L1476.94,570.10 L1478.02,568.10 L1479.10,566.09 L1480.18,564.07 L1481.26,562.04 L1482.34,560.00 L1483.41,557.95 L1484.49,555.90 L1485.57,553.83 L1486.65,551.75 L1487.73,549.67 L1488.81,547.57 L1489.89,545.46 L1490.97,543.35 L1492.05,541.22 L1493.13,539.09 L1494.21,536.94 L1495.29,534.79 L1496.36,532.62 L1497.44,530.45 L1498.52,528.26 L1499.60,526.07 L1500.68,523.86 L1501.76,521.65 L1502.84,519.42 L1503.92,517.19 L1505.00,514.94 L1506.08,512.68 L1507.16,510.42 L1508.24,508.14 L1509.32,505.85 L1510.39,503.55 L1511.47,501.24 L1512.55,498.92 L1513.63,496.59 L1514.71,494.25 L1515.79,491.90 L1516.87,489.54 L1517.95,487.16 L1519.03,484.78 L1520.11,482.38 L1521.19,479.97 L1522.27,477.56 L1523.34,475.13 L1524.42,472.69 L1525.50,470.23 L1526.58,467.77 L1527.66,465.30 L1528.74,462.81 L1529.82,460.31 L1530.90,457.80 L1531.98,455.28 L1533.06,452.75 L1534.14,450.21 L1535.22,447.65 L1536.30,445.08 L1537.37,442.50 L1538.45,439.91 L1539.53,437.31 L1540.61,434.69 L1541.69,432.07 L1542.77,429.43 L1543.85,426.77 L1544.93,424.11 L1546.01,421.43 L1547.09,418.75 L1548.17,416.04 L1549.25,413.33 L1550.32,410.60 L1551.40,407.87 L1552.48,405.11 L1553.56,402.35 L1554.64,399.57 L1555.72,396.78 L1556.80,393.98 L1557.88,391.17 L1558.96,388.34 L1560.04,385.50 L1561.12,382.64 L1562.20,379.77 L1563.28,376.89 L1564.35,374.00 L1565.43,371.09 L1566.51,368.17 L1567.59,365.23 L1568.67,362.28 L1569.75,359.32 L1570.83,356.35 L1571.91,353.36 L1572.99,350.35 L1574.07,347.34 L1575.15,344.30 L1576.23,341.26 L1577.30,338.20 L1578.38,335.13 L1579.46,332.04 L1580.54,328.94 L1581.62,325.82 L1582.70,322.69 L1583.78,319.55 L1584.86,316.39 L1585.94,313.21 L1587.02,310.02 L1588.10,306.82 L1589.18,303.60 L1590.26,300.37 L1591.33,297.12 L1592.41,293.86 L1593.49,290.58 L1594.57,287.28 L1595.65,283.97 L1596.73,280.65 L1597.81,277.31 L1598.89,273.96 L1599.97,270.59 L1601.05,267.20 L1602.13,263.80 L1603.21,260.38 L1604.28,256.95 L1605.36,253.50 L1606.44,250.03 L1607.52,246.55 L1608.60,243.06 L1609.68,239.54 L1610.76,236.01 L1611.84,232.47 L1612.92,228.91 L1614.00,225.33 L1615.08,221.73 L1616.16,218.12 L1617.24,214.49 L1618.31,210.85 L1619.39,207.19 L1620.47,203.51 L1621.55,199.81 L1622.63,196.10 L1623.71,192.37 L1624.79,188.62 L1625.87,184.86 L1626.95,181.07 L1628.03,177.27 L1629.11,173.46 L1630.19,169.62 L1631.26,165.77 L1632.34,161.90 L1633.42,158.01 L1634.50,154.10 L1635.58,150.18 L1636.66,146.24 L1637.74,142.28 L1638.82,138.30 L1639.90,134.30 L1640.98,130.29 L1642.06,126.25 L1643.14,122.20 L1644.22,118.13 L1645.29,114.04 L1646.37,109.93 L1647.45,105.80 L1648.53,101.65 L1649.61,97.48 L1650.69,93.30 L1651.77,89.09 L1652.85,84.87 L1653.93,80.62 L1655.01,76.36 L1656.09,72.08 L1657.17,67.77 L1658.24,63.45 L1659.32,59.11 L1660.40,54.74 L1661.48,50.36 L1662.56,45.96 L1663.18,43.42" fill="none" stroke="#4F89C0" stroke-width="6.5" stroke-linejoin="round"/>
<circle cx="611.20" cy="871.00" r="11.75" fill="#00B050"/>
<circle cx="664.10" cy="612.67" r="11.75" fill="#00B050"/>
<circle cx="772.80" cy="622.55" r="11.75" fill="#00B050"/>
<circle cx="772.80" cy="743.03" r="11.75" fill="#00B050"/>
<circle cx="772.80" cy="747.79" r="11.75" fill="#00B050"/>
<circle cx="772.80" cy="793.54" r="11.75" fill="#00B050"/>
<circle cx="772.80" cy="868.96" r="11.75" fill="#00B050"/>
<circle cx="827.80" cy="638.88" r="11.75" fill="#00B050"/>
<circle cx="827.80" cy="796.12" r="11.75" fill="#00B050"/>
<circle cx="854.62" cy="668.42" r="11.75" fill="#00B050"/>
<circle cx="880.90" cy="575.92" r="11.75" fill="#00B050"/>
<circle cx="880.90" cy="632.35" r="11.75" fill="#00B050"/>
<circle cx="880.90" cy="658.15" r="11.75" fill="#00B050"/>
<circle cx="880.90" cy="663.11" r="11.75" fill="#00B050"/>
<circle cx="880.90" cy="799.19" r="11.75" fill="#00B050"/>
<circle cx="880.90" cy="812.46" r="11.75" fill="#00B050"/>
<circle cx="934.10" cy="460.54" r="11.75" fill="#00B050"/>
<circle cx="934.10" cy="508.53" r="11.75" fill="#00B050"/>
<circle cx="934.10" cy="634.46" r="11.75" fill="#00B050"/>
<circle cx="934.10" cy="660.80" r="11.75" fill="#00B050"/>
<circle cx="934.10" cy="697.08" r="11.75" fill="#00B050"/>
<circle cx="934.10" cy="793.88" r="11.75" fill="#00B050"/>
<circle cx="962.59" cy="660.80" r="11.75" fill="#00B050"/>
<circle cx="989.40" cy="386.34" r="11.75" fill="#00B050"/>
<circle cx="989.40" cy="505.46" r="11.75" fill="#00B050"/>
<circle cx="989.40" cy="526.23" r="11.75" fill="#00B050"/>
<circle cx="989.40" cy="564.69" r="11.75" fill="#00B050"/>
<circle cx="989.40" cy="641.60" r="11.75" fill="#00B050"/>
<circle cx="989.40" cy="675.64" r="11.75" fill="#00B050"/>
<circle cx="989.40" cy="771.62" r="11.75" fill="#00B050"/>
<circle cx="989.40" cy="781.15" r="11.75" fill="#00B050"/>
<circle cx="989.40" cy="794.08" r="11.75" fill="#00B050"/>
<circle cx="989.40" cy="818.25" r="11.75" fill="#00B050"/>
<circle cx="1006.19" cy="549.71" r="11.75" fill="#00B050"/>
<circle cx="1042.50" cy="410.17" r="11.75" fill="#00B050"/>
<circle cx="1042.50" cy="472.79" r="11.75" fill="#00B050"/>
<circle cx="1042.50" cy="529.97" r="11.75" fill="#00B050"/>
<circle cx="1042.50" cy="550.73" r="11.75" fill="#00B050"/>
<circle cx="1042.50" cy="568.09" r="11.75" fill="#00B050"/>
<circle cx="1042.50" cy="573.53" r="11.75" fill="#00B050"/>
<circle cx="1042.50" cy="609.88" r="11.75" fill="#00B050"/>
<circle cx="1042.50" cy="740.99" r="11.75" fill="#00B050"/>
<circle cx="1042.50" cy="753.24" r="11.75" fill="#00B050"/>
<circle cx="1042.50" cy="796.33" r="11.75" fill="#00B050"/>
<circle cx="1042.50" cy="810.08" r="11.75" fill="#00B050"/>
<circle cx="1055.19" cy="417.25" r="11.75" fill="#00B050"/>
<circle cx="1059.72" cy="487.09" r="11.75" fill="#00B050"/>
<circle cx="1097.90" cy="267.49" r="11.75" fill="#00B050"/>
<circle cx="1097.90" cy="661.34" r="11.75" fill="#00B050"/>
<circle cx="1097.90" cy="672.24" r="11.75" fill="#00B050"/>
<circle cx="1097.90" cy="687.21" r="11.75" fill="#00B050"/>
<circle cx="1151.30" cy="527.93" r="11.75" fill="#00B050"/>
<circle cx="1204.00" cy="397.91" r="11.75" fill="#00B050"/>
<circle cx="1204.00" cy="637.52" r="11.75" fill="#00B050"/>
<circle cx="1204.00" cy="647.05" r="11.75" fill="#00B050"/>
<circle cx="1204.00" cy="655.90" r="11.75" fill="#00B050"/>
<circle cx="1368.30" cy="411.12" r="11.75" fill="#00B050"/>
<circle cx="1097.90" cy="789.32" r="11.75" fill="#C00000"/>
<circle cx="1151.30" cy="826.41" r="11.75" fill="#C00000"/>
<circle cx="1204.00" cy="742.35" r="11.75" fill="#C00000"/>
<circle cx="1368.30" cy="689.93" r="11.75" fill="#C00000"/>
<circle cx="1420.90" cy="622.20" r="11.75" fill="#C00000"/>
<line x1="320.00" y1="1065.30" x2="342.50" y2="1065.30" stroke="#818181" stroke-width="2.2"/>
<line x1="320.00" y1="929.40" x2="342.50" y2="929.40" stroke="#818181" stroke-width="2.2"/>
<line x1="320.00" y1="793.09" x2="342.50" y2="793.09" stroke="#818181" stroke-width="2.2"/>
<line x1="320.00" y1="656.79" x2="342.50" y2="656.79" stroke="#818181" stroke-width="2.2"/>
<line x1="320.00" y1="520.48" x2="342.50" y2="520.48" stroke="#818181" stroke-width="2.2"/>
<line x1="320.00" y1="384.18" x2="342.50" y2="384.18" stroke="#818181" stroke-width="2.2"/>
<line x1="320.00" y1="247.88" x2="342.50" y2="247.88" stroke="#818181" stroke-width="2.2"/>
<line x1="320.00" y1="111.57" x2="342.50" y2="111.57" stroke="#818181" stroke-width="2.2"/>
<line x1="342.50" y1="1065.30" x2="342.50" y2="1088.00" stroke="#818181" stroke-width="2.2"/>
<line x1="612.50" y1="1065.30" x2="612.50" y2="1088.00" stroke="#818181" stroke-width="2.2"/>
<line x1="882.30" y1="1065.30" x2="882.30" y2="1088.00" stroke="#818181" stroke-width="2.2"/>
<line x1="1152.10" y1="1065.30" x2="1152.10" y2="1088.00" stroke="#818181" stroke-width="2.2"/>
<line x1="1421.90" y1="1065.30" x2="1421.90" y2="1088.00" stroke="#818181" stroke-width="2.2"/>
<line x1="1691.70" y1="1065.30" x2="1691.70" y2="1088.00" stroke="#818181" stroke-width="2.2"/>
<line x1="1961.50" y1="1065.30" x2="1961.50" y2="1088.00" stroke="#818181" stroke-width="2.2"/>
<text class="t" x="241.34" y="1086.70" font-size="63" textLength="35.67" lengthAdjust="spacingAndGlyphs">0</text>
<text class="t" x="170.00" y="950.40" font-size="63" textLength="107.00" lengthAdjust="spacingAndGlyphs">200</text>
<text class="t" x="170.00" y="814.09" font-size="63" textLength="107.00" lengthAdjust="spacingAndGlyphs">400</text>
<text class="t" x="170.00" y="677.79" font-size="63" textLength="107.00" lengthAdjust="spacingAndGlyphs">600</text>
<text class="t" x="170.00" y="541.48" font-size="63" textLength="107.00" lengthAdjust="spacingAndGlyphs">800</text>
<text class="t" x="134.33" y="405.18" font-size="63" textLength="142.67" lengthAdjust="spacingAndGlyphs">1000</text>
<text class="t" x="134.33" y="268.88" font-size="63" textLength="142.67" lengthAdjust="spacingAndGlyphs">1200</text>
<text class="t" x="134.33" y="132.57" font-size="63" textLength="142.67" lengthAdjust="spacingAndGlyphs">1400</text>
<text class="t" x="324.27" y="1177.00" font-size="63" textLength="35.67" lengthAdjust="spacingAndGlyphs">4</text>
<text class="t" x="567.73" y="1177.00" font-size="63" textLength="89.16" lengthAdjust="spacingAndGlyphs">4<tspan font-weight="bold">.</tspan>5</text>
<text class="t" x="863.73" y="1177.00" font-size="63" textLength="35.67" lengthAdjust="spacingAndGlyphs">5</text>
<text class="t" x="1106.79" y="1177.00" font-size="63" textLength="89.16" lengthAdjust="spacingAndGlyphs">5<tspan font-weight="bold">.</tspan>5</text>
<text class="t" x="1403.05" y="1177.00" font-size="63" textLength="35.67" lengthAdjust="spacingAndGlyphs">6</text>
<text class="t" x="1646.04" y="1177.00" font-size="63" textLength="89.16" lengthAdjust="spacingAndGlyphs">6<tspan font-weight="bold">.</tspan>5</text>
<text class="t" x="1942.83" y="1177.00" font-size="63" textLength="35.67" lengthAdjust="spacingAndGlyphs">7</text>
<text x="486.41" y="202.30" font-size="84.30" class="t" textLength="109.49" lengthAdjust="spacingAndGlyphs">(A)</text>
<text x="393.35" y="451.20" font-size="72.50" class="t" textLength="446.03" lengthAdjust="spacingAndGlyphs">unstable zone</text>
<text x="1182.98" y="220.00" font-size="72.50" class="t" textLength="71.17" lengthAdjust="spacingAndGlyphs">SS</text>
<text x="1255.53" y="235.40" font-size="47.00" class="t" textLength="62.56" lengthAdjust="spacingAndGlyphs">UA</text>
<text x="1321.02" y="220.00" font-size="72.50" class="t" textLength="76.56" lengthAdjust="spacingAndGlyphs">=2</text>
<text x="1184.13" y="317.00" font-size="72.50" class="t" textLength="176.99" lengthAdjust="spacingAndGlyphs">curve</text>
<text x="1620.91" y="219.00" font-size="72.50" class="t" textLength="330.18" lengthAdjust="spacingAndGlyphs">saturation</text>
<text x="1621.09" y="316.80" font-size="72.50" class="t" textLength="178.86" lengthAdjust="spacingAndGlyphs">curve</text>
<text x="1556.32" y="888.60" font-size="72.50" class="t" textLength="364.45" lengthAdjust="spacingAndGlyphs">stable zone</text>
<text x="1105.91" y="1288.90" font-size="74.00" font-weight="bold" textLength="92.89" lengthAdjust="spacingAndGlyphs">pH</text>
<text transform="translate(97.40,841.70) rotate(-90)" x="-3.96" y="0" font-size="72.7" font-weight="bold" textLength="580.38" lengthAdjust="spacingAndGlyphs">[Uric acid] (mg/L)</text>
<line x1="342.70" y1="2324.06" x2="1973.80" y2="2324.06" stroke="#818181" stroke-width="2.1"/>
<line x1="342.70" y1="2187.77" x2="1973.80" y2="2187.77" stroke="#818181" stroke-width="2.1"/>
<line x1="342.70" y1="2051.48" x2="1973.80" y2="2051.48" stroke="#818181" stroke-width="2.1"/>
<line x1="342.70" y1="1915.19" x2="1973.80" y2="1915.19" stroke="#818181" stroke-width="2.1"/>
<line x1="342.70" y1="1778.90" x2="1973.80" y2="1778.90" stroke="#818181" stroke-width="2.1"/>
<line x1="342.70" y1="1642.61" x2="1973.80" y2="1642.61" stroke="#818181" stroke-width="2.1"/>
<line x1="342.70" y1="1506.32" x2="1973.80" y2="1506.32" stroke="#818181" stroke-width="2.1"/>
<rect x="343.70" y="1438.40" width="1629.20" height="1022.45" fill="none" stroke="#000" stroke-width="4.7"/>
<line x1="342.50" y1="1436.10" x2="342.50" y2="2462.30" stroke="#818181" stroke-width="2.2"/>
<line x1="342.50" y1="2462.30" x2="1975.20" y2="2462.30" stroke="#818181" stroke-width="2.2"/>
<path d="M342.70,2329.83 L343.79,2329.80 L344.87,2329.77 L345.96,2329.74 L347.05,2329.71 L348.14,2329.68 L349.22,2329.65 L350.31,2329.61 L351.40,2329.58 L352.49,2329.55 L353.57,2329.52 L354.66,2329.49 L355.75,2329.45 L356.84,2329.42 L357.92,2329.39 L359.01,2329.36 L360.10,2329.32 L361.19,2329.29 L362.27,2329.26 L363.36,2329.22 L364.45,2329.19 L365.54,2329.16 L366.62,2329.12 L367.71,2329.09 L368.80,2329.06 L369.88,2329.02 L370.97,2328.99 L372.06,2328.95 L373.15,2328.92 L374.23,2328.88 L375.32,2328.85 L376.41,2328.81 L377.50,2328.78 L378.58,2328.74 L379.67,2328.71 L380.76,2328.67 L381.85,2328.63 L382.93,2328.60 L384.02,2328.56 L385.11,2328.52 L386.20,2328.49 L387.28,2328.45 L388.37,2328.41 L389.46,2328.38 L390.55,2328.34 L391.63,2328.30 L392.72,2328.26 L393.81,2328.23 L394.90,2328.19 L395.98,2328.15 L397.07,2328.11 L398.16,2328.07 L399.24,2328.03 L400.33,2327.99 L401.42,2327.95 L402.51,2327.92 L403.59,2327.88 L404.68,2327.84 L405.77,2327.80 L406.86,2327.76 L407.94,2327.72 L409.03,2327.67 L410.12,2327.63 L411.21,2327.59 L412.29,2327.55 L413.38,2327.51 L414.47,2327.47 L415.56,2327.43 L416.64,2327.39 L417.73,2327.34 L418.82,2327.30 L419.91,2327.26 L420.99,2327.22 L422.08,2327.17 L423.17,2327.13 L424.25,2327.09 L425.34,2327.04 L426.43,2327.00 L427.52,2326.96 L428.60,2326.91 L429.69,2326.87 L430.78,2326.82 L431.87,2326.78 L432.95,2326.73 L434.04,2326.69 L435.13,2326.64 L436.22,2326.60 L437.30,2326.55 L438.39,2326.51 L439.48,2326.46 L440.57,2326.41 L441.65,2326.37 L442.74,2326.32 L443.83,2326.27 L444.92,2326.23 L446.00,2326.18 L447.09,2326.13 L448.18,2326.08 L449.27,2326.03 L450.35,2325.99 L451.44,2325.94 L452.53,2325.89 L453.61,2325.84 L454.70,2325.79 L455.79,2325.74 L456.88,2325.69 L457.96,2325.64 L459.05,2325.59 L460.14,2325.54 L461.23,2325.49 L462.31,2325.44 L463.40,2325.39 L464.49,2325.34 L465.58,2325.29 L466.66,2325.23 L467.75,2325.18 L468.84,2325.13 L469.93,2325.08 L471.01,2325.02 L472.10,2324.97 L473.19,2324.92 L474.28,2324.86 L475.36,2324.81 L476.45,2324.76 L477.54,2324.70 L478.62,2324.65 L479.71,2324.59 L480.80,2324.54 L481.89,2324.48 L482.97,2324.43 L484.06,2324.37 L485.15,2324.31 L486.24,2324.26 L487.32,2324.20 L488.41,2324.14 L489.50,2324.09 L490.59,2324.03 L491.67,2323.97 L492.76,2323.91 L493.85,2323.86 L494.94,2323.80 L496.02,2323.74 L497.11,2323.68 L498.20,2323.62 L499.29,2323.56 L500.37,2323.50 L501.46,2323.44 L502.55,2323.38 L503.64,2323.32 L504.72,2323.26 L505.81,2323.20 L506.90,2323.14 L507.98,2323.07 L509.07,2323.01 L510.16,2322.95 L511.25,2322.89 L512.33,2322.82 L513.42,2322.76 L514.51,2322.70 L515.60,2322.63 L516.68,2322.57 L517.77,2322.50 L518.86,2322.44 L519.95,2322.37 L521.03,2322.31 L522.12,2322.24 L523.21,2322.18 L524.30,2322.11 L525.38,2322.04 L526.47,2321.98 L527.56,2321.91 L528.65,2321.84 L529.73,2321.77 L530.82,2321.71 L531.91,2321.64 L532.99,2321.57 L534.08,2321.50 L535.17,2321.43 L536.26,2321.36 L537.34,2321.29 L538.43,2321.22 L539.52,2321.15 L540.61,2321.08 L541.69,2321.01 L542.78,2320.93 L543.87,2320.86 L544.96,2320.79 L546.04,2320.72 L547.13,2320.64 L548.22,2320.57 L549.31,2320.50 L550.39,2320.42 L551.48,2320.35 L552.57,2320.27 L553.66,2320.20 L554.74,2320.12 L555.83,2320.05 L556.92,2319.97 L558.01,2319.89 L559.09,2319.82 L560.18,2319.74 L561.27,2319.66 L562.35,2319.58 L563.44,2319.50 L564.53,2319.43 L565.62,2319.35 L566.70,2319.27 L567.79,2319.19 L568.88,2319.11 L569.97,2319.03 L571.05,2318.94 L572.14,2318.86 L573.23,2318.78 L574.32,2318.70 L575.40,2318.62 L576.49,2318.53 L577.58,2318.45 L578.67,2318.37 L579.75,2318.28 L580.84,2318.20 L581.93,2318.11 L583.02,2318.03 L584.10,2317.94 L585.19,2317.86 L586.28,2317.77 L587.36,2317.68 L588.45,2317.60 L589.54,2317.51 L590.63,2317.42 L591.71,2317.33 L592.80,2317.24 L593.89,2317.15 L594.98,2317.06 L596.06,2316.97 L597.15,2316.88 L598.24,2316.79 L599.33,2316.70 L600.41,2316.61 L601.50,2316.52 L602.59,2316.42 L603.68,2316.33 L604.76,2316.24 L605.85,2316.14 L606.94,2316.05 L608.03,2315.95 L609.11,2315.86 L610.20,2315.76 L611.29,2315.67 L612.38,2315.57 L613.46,2315.47 L614.55,2315.37 L615.64,2315.28 L616.72,2315.18 L617.81,2315.08 L618.90,2314.98 L619.99,2314.88 L621.07,2314.78 L622.16,2314.68 L623.25,2314.58 L624.34,2314.48 L625.42,2314.37 L626.51,2314.27 L627.60,2314.17 L628.69,2314.06 L629.77,2313.96 L630.86,2313.85 L631.95,2313.75 L633.04,2313.64 L634.12,2313.54 L635.21,2313.43 L636.30,2313.32 L637.39,2313.22 L638.47,2313.11 L639.56,2313.00 L640.65,2312.89 L641.73,2312.78 L642.82,2312.67 L643.91,2312.56 L645.00,2312.45 L646.08,2312.34 L647.17,2312.23 L648.26,2312.11 L649.35,2312.00 L650.43,2311.89 L651.52,2311.77 L652.61,2311.66 L653.70,2311.54 L654.78,2311.43 L655.87,2311.31 L656.96,2311.19 L658.05,2311.07 L659.13,2310.96 L660.22,2310.84 L661.31,2310.72 L662.40,2310.60 L663.48,2310.48 L664.57,2310.36 L665.66,2310.24 L666.75,2310.11 L667.83,2309.99 L668.92,2309.87 L670.01,2309.74 L671.09,2309.62 L672.18,2309.50 L673.27,2309.37 L674.36,2309.24 L675.44,2309.12 L676.53,2308.99 L677.62,2308.86 L678.71,2308.73 L679.79,2308.60 L680.88,2308.47 L681.97,2308.34 L683.06,2308.21 L684.14,2308.08 L685.23,2307.95 L686.32,2307.82 L687.41,2307.68 L688.49,2307.55 L689.58,2307.42 L690.67,2307.28 L691.76,2307.15 L692.84,2307.01 L693.93,2306.87 L695.02,2306.73 L696.10,2306.60 L697.19,2306.46 L698.28,2306.32 L699.37,2306.18 L700.45,2306.04 L701.54,2305.89 L702.63,2305.75 L703.72,2305.61 L704.80,2305.47 L705.89,2305.32 L706.98,2305.18 L708.07,2305.03 L709.15,2304.88 L710.24,2304.74 L711.33,2304.59 L712.42,2304.44 L713.50,2304.29 L714.59,2304.14 L715.68,2303.99 L716.77,2303.84 L717.85,2303.69 L718.94,2303.54 L720.03,2303.38 L721.12,2303.23 L722.20,2303.08 L723.29,2302.92 L724.38,2302.76 L725.46,2302.61 L726.55,2302.45 L727.64,2302.29 L728.73,2302.13 L729.81,2301.97 L730.90,2301.81 L731.99,2301.65 L733.08,2301.49 L734.16,2301.33 L735.25,2301.16 L736.34,2301.00 L737.43,2300.83 L738.51,2300.67 L739.60,2300.50 L740.69,2300.33 L741.78,2300.16 L742.86,2300.00 L743.95,2299.83 L745.04,2299.66 L746.13,2299.48 L747.21,2299.31 L748.30,2299.14 L749.39,2298.97 L750.47,2298.79 L751.56,2298.62 L752.65,2298.44 L753.74,2298.26 L754.82,2298.08 L755.91,2297.91 L757.00,2297.73 L758.09,2297.55 L759.17,2297.36 L760.26,2297.18 L761.35,2297.00 L762.44,2296.82 L763.52,2296.63 L764.61,2296.45 L765.70,2296.26 L766.79,2296.07 L767.87,2295.88 L768.96,2295.70 L770.05,2295.51 L771.14,2295.32 L772.22,2295.12 L773.31,2294.93 L774.40,2294.74 L775.49,2294.54 L776.57,2294.35 L777.66,2294.15 L778.75,2293.96 L779.83,2293.76 L780.92,2293.56 L782.01,2293.36 L783.10,2293.16 L784.18,2292.96 L785.27,2292.75 L786.36,2292.55 L787.45,2292.35 L788.53,2292.14 L789.62,2291.93 L790.71,2291.73 L791.80,2291.52 L792.88,2291.31 L793.97,2291.10 L795.06,2290.89 L796.15,2290.68 L797.23,2290.46 L798.32,2290.25 L799.41,2290.03 L800.50,2289.82 L801.58,2289.60 L802.67,2289.38 L803.76,2289.16 L804.84,2288.94 L805.93,2288.72 L807.02,2288.50 L808.11,2288.28 L809.19,2288.05 L810.28,2287.83 L811.37,2287.60 L812.46,2287.37 L813.54,2287.14 L814.63,2286.91 L815.72,2286.68 L816.81,2286.45 L817.89,2286.22 L818.98,2285.98 L820.07,2285.75 L821.16,2285.51 L822.24,2285.28 L823.33,2285.04 L824.42,2284.80 L825.51,2284.56 L826.59,2284.32 L827.68,2284.07 L828.77,2283.83 L829.86,2283.58 L830.94,2283.34 L832.03,2283.09 L833.12,2282.84 L834.20,2282.59 L835.29,2282.34 L836.38,2282.09 L837.47,2281.84 L838.55,2281.58 L839.64,2281.33 L840.73,2281.07 L841.82,2280.81 L842.90,2280.55 L843.99,2280.29 L845.08,2280.03 L846.17,2279.77 L847.25,2279.50 L848.34,2279.24 L849.43,2278.97 L850.52,2278.70 L851.60,2278.43 L852.69,2278.16 L853.78,2277.89 L854.87,2277.62 L855.95,2277.35 L857.04,2277.07 L858.13,2276.79 L859.21,2276.52 L860.30,2276.24 L861.39,2275.96 L862.48,2275.67 L863.56,2275.39 L864.65,2275.11 L865.74,2274.82 L866.83,2274.53 L867.91,2274.24 L869.00,2273.96 L870.09,2273.66 L871.18,2273.37 L872.26,2273.08 L873.35,2272.78 L874.44,2272.49 L875.53,2272.19 L876.61,2271.89 L877.70,2271.59 L878.79,2271.29 L879.88,2270.98 L880.96,2270.68 L882.05,2270.37 L883.14,2270.06 L884.23,2269.75 L885.31,2269.44 L886.40,2269.13 L887.49,2268.82 L888.57,2268.50 L889.66,2268.19 L890.75,2267.87 L891.84,2267.55 L892.92,2267.23 L894.01,2266.90 L895.10,2266.58 L896.19,2266.25 L897.27,2265.93 L898.36,2265.60 L899.45,2265.27 L900.54,2264.94 L901.62,2264.60 L902.71,2264.27 L903.80,2263.93 L904.89,2263.60 L905.97,2263.26 L907.06,2262.91 L908.15,2262.57 L909.24,2262.23 L910.32,2261.88 L911.41,2261.53 L912.50,2261.19 L913.58,2260.84 L914.67,2260.48 L915.76,2260.13 L916.85,2259.77 L917.93,2259.42 L919.02,2259.06 L920.11,2258.70 L921.20,2258.33 L922.28,2257.97 L923.37,2257.60 L924.46,2257.24 L925.55,2256.87 L926.63,2256.50 L927.72,2256.12 L928.81,2255.75 L929.90,2255.37 L930.98,2255.00 L932.07,2254.62 L933.16,2254.24 L934.25,2253.85 L935.33,2253.47 L936.42,2253.08 L937.51,2252.69 L938.60,2252.30 L939.68,2251.91 L940.77,2251.52 L941.86,2251.12 L942.94,2250.72 L944.03,2250.32 L945.12,2249.92 L946.21,2249.52 L947.29,2249.11 L948.38,2248.71 L949.47,2248.30 L950.56,2247.89 L951.64,2247.48 L952.73,2247.06 L953.82,2246.64 L954.91,2246.23 L955.99,2245.81 L957.08,2245.38 L958.17,2244.96 L959.26,2244.53 L960.34,2244.10 L961.43,2243.67 L962.52,2243.24 L963.61,2242.81 L964.69,2242.37 L965.78,2241.93 L966.87,2241.49 L967.95,2241.05 L969.04,2240.60 L970.13,2240.16 L971.22,2239.71 L972.30,2239.26 L973.39,2238.81 L974.48,2238.35 L975.57,2237.89 L976.65,2237.43 L977.74,2236.97 L978.83,2236.51 L979.92,2236.04 L981.00,2235.58 L982.09,2235.11 L983.18,2234.63 L984.27,2234.16 L985.35,2233.68 L986.44,2233.20 L987.53,2232.72 L988.62,2232.24 L989.70,2231.75 L990.79,2231.27 L991.88,2230.78 L992.97,2230.28 L994.05,2229.79 L995.14,2229.29 L996.23,2228.79 L997.31,2228.29 L998.40,2227.79 L999.49,2227.28 L1000.58,2226.77 L1001.66,2226.26 L1002.75,2225.75 L1003.84,2225.23 L1004.93,2224.71 L1006.01,2224.19 L1007.10,2223.67 L1008.19,2223.14 L1009.28,2222.62 L1010.36,2222.08 L1011.45,2221.55 L1012.54,2221.02 L1013.63,2220.48 L1014.71,2219.94 L1015.80,2219.40 L1016.89,2218.85 L1017.98,2218.30 L1019.06,2217.75 L1020.15,2217.20 L1021.24,2216.64 L1022.32,2216.08 L1023.41,2215.52 L1024.50,2214.96 L1025.59,2214.39 L1026.67,2213.82 L1027.76,2213.25 L1028.85,2212.68 L1029.94,2212.10 L1031.02,2211.52 L1032.11,2210.94 L1033.20,2210.36 L1034.29,2209.77 L1035.37,2209.18 L1036.46,2208.58 L1037.55,2207.99 L1038.64,2207.39 L1039.72,2206.79 L1040.81,2206.18 L1041.90,2205.58 L1042.99,2204.97 L1044.07,2204.35 L1045.16,2203.74 L1046.25,2203.12 L1047.34,2202.50 L1048.42,2201.87 L1049.51,2201.25 L1050.60,2200.62 L1051.68,2199.98 L1052.77,2199.35 L1053.86,2198.71 L1054.95,2198.07 L1056.03,2197.42 L1057.12,2196.77 L1058.21,2196.12 L1059.30,2195.47 L1060.38,2194.81 L1061.47,2194.15 L1062.56,2193.49 L1063.65,2192.82 L1064.73,2192.15 L1065.82,2191.48 L1066.91,2190.81 L1068.00,2190.13 L1069.08,2189.45 L1070.17,2188.76 L1071.26,2188.07 L1072.35,2187.38 L1073.43,2186.69 L1074.52,2185.99 L1075.61,2185.29 L1076.69,2184.58 L1077.78,2183.87 L1078.87,2183.16 L1079.96,2182.45 L1081.04,2181.73 L1082.13,2181.01 L1083.22,2180.29 L1084.31,2179.56 L1085.39,2178.83 L1086.48,2178.09 L1087.57,2177.35 L1088.66,2176.61 L1089.74,2175.87 L1090.83,2175.12 L1091.92,2174.37 L1093.01,2173.61 L1094.09,2172.85 L1095.18,2172.09 L1096.27,2171.32 L1097.36,2170.55 L1098.44,2169.78 L1099.53,2169.01 L1100.62,2168.22 L1101.71,2167.44 L1102.79,2166.65 L1103.88,2165.86 L1104.97,2165.07 L1106.05,2164.27 L1107.14,2163.47 L1108.23,2162.66 L1109.32,2161.85 L1110.40,2161.04 L1111.49,2160.22 L1112.58,2159.40 L1113.67,2158.57 L1114.75,2157.74 L1115.84,2156.91 L1116.93,2156.07 L1118.02,2155.23 L1119.10,2154.39 L1120.19,2153.54 L1121.28,2152.69 L1122.37,2151.83 L1123.45,2150.97 L1124.54,2150.10 L1125.63,2149.24 L1126.72,2148.36 L1127.80,2147.49 L1128.89,2146.61 L1129.98,2145.72 L1131.06,2144.83 L1132.15,2143.94 L1133.24,2143.04 L1134.33,2142.14 L1135.41,2141.24 L1136.50,2140.33 L1137.59,2139.41 L1138.68,2138.49 L1139.76,2137.57 L1140.85,2136.64 L1141.94,2135.71 L1143.03,2134.78 L1144.11,2133.84 L1145.20,2132.89 L1146.29,2131.94 L1147.38,2130.99 L1148.46,2130.03 L1149.55,2129.07 L1150.64,2128.10 L1151.73,2127.13 L1152.81,2126.16 L1153.90,2125.18 L1154.99,2124.19 L1156.08,2123.20 L1157.16,2122.21 L1158.25,2121.21 L1159.34,2120.21 L1160.42,2119.20 L1161.51,2118.19 L1162.60,2117.17 L1163.69,2116.15 L1164.77,2115.12 L1165.86,2114.09 L1166.95,2113.05 L1168.04,2112.01 L1169.12,2110.97 L1170.21,2109.91 L1171.30,2108.86 L1172.39,2107.80 L1173.47,2106.73 L1174.56,2105.66 L1175.65,2104.59 L1176.74,2103.51 L1177.82,2102.42 L1178.91,2101.33 L1180.00,2100.23 L1181.09,2099.13 L1182.17,2098.03 L1183.26,2096.91 L1184.35,2095.80 L1185.43,2094.68 L1186.52,2093.55 L1187.61,2092.42 L1188.70,2091.28 L1189.78,2090.14 L1190.87,2088.99 L1191.96,2087.84 L1193.05,2086.68 L1194.13,2085.51 L1195.22,2084.34 L1196.31,2083.17 L1197.40,2081.99 L1198.48,2080.80 L1199.57,2079.61 L1200.66,2078.41 L1201.75,2077.21 L1202.83,2076.00 L1203.92,2074.79 L1205.01,2073.57 L1206.10,2072.34 L1207.18,2071.11 L1208.27,2069.88 L1209.36,2068.63 L1210.45,2067.38 L1211.53,2066.13 L1212.62,2064.87 L1213.71,2063.60 L1214.79,2062.33 L1215.88,2061.06 L1216.97,2059.77 L1218.06,2058.48 L1219.14,2057.19 L1220.23,2055.88 L1221.32,2054.58 L1222.41,2053.26 L1223.49,2051.94 L1224.58,2050.62 L1225.67,2049.28 L1226.76,2047.95 L1227.84,2046.60 L1228.93,2045.25 L1230.02,2043.89 L1231.11,2042.53 L1232.19,2041.16 L1233.28,2039.78 L1234.37,2038.40 L1235.46,2037.01 L1236.54,2035.62 L1237.63,2034.21 L1238.72,2032.80 L1239.80,2031.39 L1240.89,2029.97 L1241.98,2028.54 L1243.07,2027.10 L1244.15,2025.66 L1245.24,2024.21 L1246.33,2022.76 L1247.42,2021.30 L1248.50,2019.83 L1249.59,2018.35 L1250.68,2016.87 L1251.77,2015.38 L1252.85,2013.88 L1253.94,2012.38 L1255.03,2010.87 L1256.12,2009.35 L1257.20,2007.83 L1258.29,2006.29 L1259.38,2004.75 L1260.47,2003.21 L1261.55,2001.66 L1262.64,2000.09 L1263.73,1998.53 L1264.82,1996.95 L1265.90,1995.37 L1266.99,1993.78 L1268.08,1992.18 L1269.16,1990.58 L1270.25,1988.97 L1271.34,1987.35 L1272.43,1985.72 L1273.51,1984.08 L1274.60,1982.44 L1275.69,1980.79 L1276.78,1979.13 L1277.86,1977.47 L1278.95,1975.79 L1280.04,1974.11 L1281.13,1972.42 L1282.21,1970.73 L1283.30,1969.02 L1284.39,1967.31 L1285.48,1965.59 L1286.56,1963.86 L1287.65,1962.12 L1288.74,1960.38 L1289.83,1958.63 L1290.91,1956.87 L1292.00,1955.10 L1293.09,1953.32 L1294.17,1951.53 L1295.26,1949.74 L1296.35,1947.94 L1297.44,1946.12 L1298.52,1944.31 L1299.61,1942.48 L1300.70,1940.64 L1301.79,1938.80 L1302.87,1936.94 L1303.96,1935.08 L1305.05,1933.21 L1306.14,1931.33 L1307.22,1929.44 L1308.31,1927.54 L1309.40,1925.64 L1310.49,1923.72 L1311.57,1921.80 L1312.66,1919.87 L1313.75,1917.92 L1314.84,1915.97 L1315.92,1914.01 L1317.01,1912.04 L1318.10,1910.07 L1319.19,1908.08 L1320.27,1906.08 L1321.36,1904.08 L1322.45,1902.06 L1323.53,1900.04 L1324.62,1898.00 L1325.71,1895.96 L1326.80,1893.90 L1327.88,1891.84 L1328.97,1889.77 L1330.06,1887.69 L1331.15,1885.60 L1332.23,1883.49 L1333.32,1881.38 L1334.41,1879.26 L1335.50,1877.13 L1336.58,1874.99 L1337.67,1872.84 L1338.76,1870.68 L1339.85,1868.51 L1340.93,1866.32 L1342.02,1864.13 L1343.11,1861.93 L1344.20,1859.72 L1345.28,1857.50 L1346.37,1855.26 L1347.46,1853.02 L1348.54,1850.77 L1349.63,1848.50 L1350.72,1846.23 L1351.81,1843.94 L1352.89,1841.65 L1353.98,1839.34 L1355.07,1837.03 L1356.16,1834.70 L1357.24,1832.36 L1358.33,1830.01 L1359.42,1827.65 L1360.51,1825.28 L1361.59,1822.89 L1362.68,1820.50 L1363.77,1818.09 L1364.86,1815.68 L1365.94,1813.25 L1367.03,1810.81 L1368.12,1808.36 L1369.21,1805.90 L1370.29,1803.43 L1371.38,1800.94 L1372.47,1798.45 L1373.56,1795.94 L1374.64,1793.42 L1375.73,1790.89 L1376.82,1788.34 L1377.90,1785.79 L1378.99,1783.22 L1380.08,1780.64 L1381.17,1778.05 L1382.25,1775.45 L1383.34,1772.83 L1384.43,1770.21 L1385.52,1767.57 L1386.60,1764.92 L1387.69,1762.25 L1388.78,1759.58 L1389.87,1756.89 L1390.95,1754.18 L1392.04,1751.47 L1393.13,1748.74 L1394.22,1746.00 L1395.30,1743.25 L1396.39,1740.49 L1397.48,1737.71 L1398.57,1734.92 L1399.65,1732.11 L1400.74,1729.30 L1401.83,1726.47 L1402.91,1723.62 L1404.00,1720.77 L1405.09,1717.90 L1406.18,1715.01 L1407.26,1712.12 L1408.35,1709.21 L1409.44,1706.28 L1410.53,1703.34 L1411.61,1700.39 L1412.70,1697.43 L1413.79,1694.45 L1414.88,1691.46 L1415.96,1688.45 L1417.05,1685.43 L1418.14,1682.39 L1419.23,1679.35 L1420.31,1676.28 L1421.40,1673.21 L1422.49,1670.11 L1423.58,1667.01 L1424.66,1663.89 L1425.75,1660.75 L1426.84,1657.60 L1427.93,1654.44 L1429.01,1651.26 L1430.10,1648.06 L1431.19,1644.86 L1432.27,1641.63 L1433.36,1638.39 L1434.45,1635.14 L1435.54,1631.87 L1436.62,1628.59 L1437.71,1625.29 L1438.80,1621.97 L1439.89,1618.64 L1440.97,1615.29 L1442.06,1611.93 L1443.15,1608.55 L1444.24,1605.16 L1445.32,1601.75 L1446.41,1598.33 L1447.50,1594.89 L1448.59,1591.43 L1449.67,1587.96 L1450.76,1584.47 L1451.85,1580.96 L1452.94,1577.44 L1454.02,1573.90 L1455.11,1570.35 L1456.20,1566.78 L1457.28,1563.19 L1458.37,1559.59 L1459.46,1555.96 L1460.55,1552.33 L1461.63,1548.67 L1462.72,1545.00 L1463.81,1541.31 L1464.90,1537.60 L1465.98,1533.88 L1467.07,1530.14 L1468.16,1526.38 L1469.25,1522.60 L1470.33,1518.81 L1471.42,1515.00 L1472.51,1511.17 L1473.60,1507.32 L1474.68,1503.46 L1475.77,1499.57 L1476.86,1495.67 L1477.95,1491.75 L1479.03,1487.81 L1480.12,1483.86 L1481.21,1479.88 L1482.30,1475.89 L1483.38,1471.88 L1484.47,1467.85 L1485.56,1463.80 L1486.64,1459.73 L1487.73,1455.65 L1488.82,1451.54 L1489.91,1447.41 L1490.99,1443.27 L1492.08,1439.11 L1492.32,1438.17" fill="none" stroke="#44546A" stroke-width="6.2" stroke-linejoin="round"/>
<path d="M342.70,2394.45 L343.79,2394.44 L344.87,2394.42 L345.96,2394.41 L347.05,2394.39 L348.14,2394.37 L349.22,2394.36 L350.31,2394.34 L351.40,2394.33 L352.49,2394.31 L353.57,2394.29 L354.66,2394.28 L355.75,2394.26 L356.84,2394.24 L357.92,2394.23 L359.01,2394.21 L360.10,2394.19 L361.19,2394.18 L362.27,2394.16 L363.36,2394.14 L364.45,2394.12 L365.54,2394.11 L366.62,2394.09 L367.71,2394.07 L368.80,2394.06 L369.88,2394.04 L370.97,2394.02 L372.06,2394.00 L373.15,2393.98 L374.23,2393.97 L375.32,2393.95 L376.41,2393.93 L377.50,2393.91 L378.58,2393.89 L379.67,2393.88 L380.76,2393.86 L381.85,2393.84 L382.93,2393.82 L384.02,2393.80 L385.11,2393.78 L386.20,2393.76 L387.28,2393.75 L388.37,2393.73 L389.46,2393.71 L390.55,2393.69 L391.63,2393.67 L392.72,2393.65 L393.81,2393.63 L394.90,2393.61 L395.98,2393.59 L397.07,2393.57 L398.16,2393.55 L399.24,2393.53 L400.33,2393.51 L401.42,2393.49 L402.51,2393.47 L403.59,2393.45 L404.68,2393.43 L405.77,2393.41 L406.86,2393.39 L407.94,2393.37 L409.03,2393.35 L410.12,2393.33 L411.21,2393.31 L412.29,2393.29 L413.38,2393.26 L414.47,2393.24 L415.56,2393.22 L416.64,2393.20 L417.73,2393.18 L418.82,2393.16 L419.91,2393.14 L420.99,2393.11 L422.08,2393.09 L423.17,2393.07 L424.25,2393.05 L425.34,2393.03 L426.43,2393.00 L427.52,2392.98 L428.60,2392.96 L429.69,2392.94 L430.78,2392.91 L431.87,2392.89 L432.95,2392.87 L434.04,2392.84 L435.13,2392.82 L436.22,2392.80 L437.30,2392.77 L438.39,2392.75 L439.48,2392.73 L440.57,2392.70 L441.65,2392.68 L442.74,2392.66 L443.83,2392.63 L444.92,2392.61 L446.00,2392.58 L447.09,2392.56 L448.18,2392.53 L449.27,2392.51 L450.35,2392.48 L451.44,2392.46 L452.53,2392.44 L453.61,2392.41 L454.70,2392.38 L455.79,2392.36 L456.88,2392.33 L457.96,2392.31 L459.05,2392.28 L460.14,2392.26 L461.23,2392.23 L462.31,2392.21 L463.40,2392.18 L464.49,2392.15 L465.58,2392.13 L466.66,2392.10 L467.75,2392.07 L468.84,2392.05 L469.93,2392.02 L471.01,2391.99 L472.10,2391.97 L473.19,2391.94 L474.28,2391.91 L475.36,2391.88 L476.45,2391.86 L477.54,2391.83 L478.62,2391.80 L479.71,2391.77 L480.80,2391.74 L481.89,2391.72 L482.97,2391.69 L484.06,2391.66 L485.15,2391.63 L486.24,2391.60 L487.32,2391.57 L488.41,2391.54 L489.50,2391.51 L490.59,2391.49 L491.67,2391.46 L492.76,2391.43 L493.85,2391.40 L494.94,2391.37 L496.02,2391.34 L497.11,2391.31 L498.20,2391.28 L499.29,2391.25 L500.37,2391.22 L501.46,2391.18 L502.55,2391.15 L503.64,2391.12 L504.72,2391.09 L505.81,2391.06 L506.90,2391.03 L507.98,2391.00 L509.07,2390.97 L510.16,2390.93 L511.25,2390.90 L512.33,2390.87 L513.42,2390.84 L514.51,2390.81 L515.60,2390.77 L516.68,2390.74 L517.77,2390.71 L518.86,2390.67 L519.95,2390.64 L521.03,2390.61 L522.12,2390.57 L523.21,2390.54 L524.30,2390.51 L525.38,2390.47 L526.47,2390.44 L527.56,2390.40 L528.65,2390.37 L529.73,2390.34 L530.82,2390.30 L531.91,2390.27 L532.99,2390.23 L534.08,2390.20 L535.17,2390.16 L536.26,2390.12 L537.34,2390.09 L538.43,2390.05 L539.52,2390.02 L540.61,2389.98 L541.69,2389.94 L542.78,2389.91 L543.87,2389.87 L544.96,2389.83 L546.04,2389.80 L547.13,2389.76 L548.22,2389.72 L549.31,2389.68 L550.39,2389.65 L551.48,2389.61 L552.57,2389.57 L553.66,2389.53 L554.74,2389.49 L555.83,2389.45 L556.92,2389.42 L558.01,2389.38 L559.09,2389.34 L560.18,2389.30 L561.27,2389.26 L562.35,2389.22 L563.44,2389.18 L564.53,2389.14 L565.62,2389.10 L566.70,2389.06 L567.79,2389.02 L568.88,2388.98 L569.97,2388.94 L571.05,2388.89 L572.14,2388.85 L573.23,2388.81 L574.32,2388.77 L575.40,2388.73 L576.49,2388.69 L577.58,2388.64 L578.67,2388.60 L579.75,2388.56 L580.84,2388.51 L581.93,2388.47 L583.02,2388.43 L584.10,2388.38 L585.19,2388.34 L586.28,2388.30 L587.36,2388.25 L588.45,2388.21 L589.54,2388.16 L590.63,2388.12 L591.71,2388.07 L592.80,2388.03 L593.89,2387.98 L594.98,2387.94 L596.06,2387.89 L597.15,2387.85 L598.24,2387.80 L599.33,2387.75 L600.41,2387.71 L601.50,2387.66 L602.59,2387.61 L603.68,2387.57 L604.76,2387.52 L605.85,2387.47 L606.94,2387.42 L608.03,2387.37 L609.11,2387.33 L610.20,2387.28 L611.29,2387.23 L612.38,2387.18 L613.46,2387.13 L614.55,2387.08 L615.64,2387.03 L616.72,2386.98 L617.81,2386.93 L618.90,2386.88 L619.99,2386.83 L621.07,2386.78 L622.16,2386.73 L623.25,2386.67 L624.34,2386.62 L625.42,2386.57 L626.51,2386.52 L627.60,2386.47 L628.69,2386.41 L629.77,2386.36 L630.86,2386.31 L631.95,2386.25 L633.04,2386.20 L634.12,2386.15 L635.21,2386.09 L636.30,2386.04 L637.39,2385.98 L638.47,2385.93 L639.56,2385.87 L640.65,2385.82 L641.73,2385.76 L642.82,2385.71 L643.91,2385.65 L645.00,2385.59 L646.08,2385.54 L647.17,2385.48 L648.26,2385.42 L649.35,2385.37 L650.43,2385.31 L651.52,2385.25 L652.61,2385.19 L653.70,2385.13 L654.78,2385.07 L655.87,2385.02 L656.96,2384.96 L658.05,2384.90 L659.13,2384.84 L660.22,2384.78 L661.31,2384.72 L662.40,2384.66 L663.48,2384.59 L664.57,2384.53 L665.66,2384.47 L666.75,2384.41 L667.83,2384.35 L668.92,2384.28 L670.01,2384.22 L671.09,2384.16 L672.18,2384.10 L673.27,2384.03 L674.36,2383.97 L675.44,2383.90 L676.53,2383.84 L677.62,2383.78 L678.71,2383.71 L679.79,2383.64 L680.88,2383.58 L681.97,2383.51 L683.06,2383.45 L684.14,2383.38 L685.23,2383.31 L686.32,2383.25 L687.41,2383.18 L688.49,2383.11 L689.58,2383.04 L690.67,2382.97 L691.76,2382.91 L692.84,2382.84 L693.93,2382.77 L695.02,2382.70 L696.10,2382.63 L697.19,2382.56 L698.28,2382.49 L699.37,2382.41 L700.45,2382.34 L701.54,2382.27 L702.63,2382.20 L703.72,2382.13 L704.80,2382.05 L705.89,2381.98 L706.98,2381.91 L708.07,2381.83 L709.15,2381.76 L710.24,2381.69 L711.33,2381.61 L712.42,2381.54 L713.50,2381.46 L714.59,2381.38 L715.68,2381.31 L716.77,2381.23 L717.85,2381.16 L718.94,2381.08 L720.03,2381.00 L721.12,2380.92 L722.20,2380.84 L723.29,2380.77 L724.38,2380.69 L725.46,2380.61 L726.55,2380.53 L727.64,2380.45 L728.73,2380.37 L729.81,2380.29 L730.90,2380.21 L731.99,2380.12 L733.08,2380.04 L734.16,2379.96 L735.25,2379.88 L736.34,2379.79 L737.43,2379.71 L738.51,2379.63 L739.60,2379.54 L740.69,2379.46 L741.78,2379.37 L742.86,2379.29 L743.95,2379.20 L745.04,2379.11 L746.13,2379.03 L747.21,2378.94 L748.30,2378.85 L749.39,2378.77 L750.47,2378.68 L751.56,2378.59 L752.65,2378.50 L753.74,2378.41 L754.82,2378.32 L755.91,2378.23 L757.00,2378.14 L758.09,2378.05 L759.17,2377.96 L760.26,2377.87 L761.35,2377.77 L762.44,2377.68 L763.52,2377.59 L764.61,2377.49 L765.70,2377.40 L766.79,2377.30 L767.87,2377.21 L768.96,2377.11 L770.05,2377.02 L771.14,2376.92 L772.22,2376.82 L773.31,2376.73 L774.40,2376.63 L775.49,2376.53 L776.57,2376.43 L777.66,2376.33 L778.75,2376.23 L779.83,2376.14 L780.92,2376.03 L782.01,2375.93 L783.10,2375.83 L784.18,2375.73 L785.27,2375.63 L786.36,2375.53 L787.45,2375.42 L788.53,2375.32 L789.62,2375.21 L790.71,2375.11 L791.80,2375.00 L792.88,2374.90 L793.97,2374.79 L795.06,2374.69 L796.15,2374.58 L797.23,2374.47 L798.32,2374.36 L799.41,2374.26 L800.50,2374.15 L801.58,2374.04 L802.67,2373.93 L803.76,2373.82 L804.84,2373.70 L805.93,2373.59 L807.02,2373.48 L808.11,2373.37 L809.19,2373.26 L810.28,2373.14 L811.37,2373.03 L812.46,2372.91 L813.54,2372.80 L814.63,2372.68 L815.72,2372.57 L816.81,2372.45 L817.89,2372.33 L818.98,2372.21 L820.07,2372.09 L821.16,2371.98 L822.24,2371.86 L823.33,2371.74 L824.42,2371.61 L825.51,2371.49 L826.59,2371.37 L827.68,2371.25 L828.77,2371.13 L829.86,2371.00 L830.94,2370.88 L832.03,2370.75 L833.12,2370.63 L834.20,2370.50 L835.29,2370.38 L836.38,2370.25 L837.47,2370.12 L838.55,2369.99 L839.64,2369.86 L840.73,2369.74 L841.82,2369.61 L842.90,2369.47 L843.99,2369.34 L845.08,2369.21 L846.17,2369.08 L847.25,2368.95 L848.34,2368.81 L849.43,2368.68 L850.52,2368.54 L851.60,2368.41 L852.69,2368.27 L853.78,2368.14 L854.87,2368.00 L855.95,2367.86 L857.04,2367.72 L858.13,2367.58 L859.21,2367.44 L860.30,2367.30 L861.39,2367.16 L862.48,2367.02 L863.56,2366.88 L864.65,2366.73 L865.74,2366.59 L866.83,2366.44 L867.91,2366.30 L869.00,2366.15 L870.09,2366.01 L871.18,2365.86 L872.26,2365.71 L873.35,2365.56 L874.44,2365.41 L875.53,2365.26 L876.61,2365.11 L877.70,2364.96 L878.79,2364.81 L879.88,2364.66 L880.96,2364.50 L882.05,2364.35 L883.14,2364.20 L884.23,2364.04 L885.31,2363.88 L886.40,2363.73 L887.49,2363.57 L888.57,2363.41 L889.66,2363.25 L890.75,2363.09 L891.84,2362.93 L892.92,2362.77 L894.01,2362.61 L895.10,2362.44 L896.19,2362.28 L897.27,2362.12 L898.36,2361.95 L899.45,2361.78 L900.54,2361.62 L901.62,2361.45 L902.71,2361.28 L903.80,2361.11 L904.89,2360.94 L905.97,2360.77 L907.06,2360.60 L908.15,2360.43 L909.24,2360.26 L910.32,2360.08 L911.41,2359.91 L912.50,2359.73 L913.58,2359.56 L914.67,2359.38 L915.76,2359.20 L916.85,2359.02 L917.93,2358.84 L919.02,2358.66 L920.11,2358.48 L921.20,2358.30 L922.28,2358.12 L923.37,2357.93 L924.46,2357.75 L925.55,2357.56 L926.63,2357.38 L927.72,2357.19 L928.81,2357.00 L929.90,2356.81 L930.98,2356.62 L932.07,2356.43 L933.16,2356.24 L934.25,2356.05 L935.33,2355.86 L936.42,2355.66 L937.51,2355.47 L938.60,2355.27 L939.68,2355.07 L940.77,2354.88 L941.86,2354.68 L942.94,2354.48 L944.03,2354.28 L945.12,2354.08 L946.21,2353.87 L947.29,2353.67 L948.38,2353.47 L949.47,2353.26 L950.56,2353.06 L951.64,2352.85 L952.73,2352.64 L953.82,2352.43 L954.91,2352.22 L955.99,2352.01 L957.08,2351.80 L958.17,2351.59 L959.26,2351.37 L960.34,2351.16 L961.43,2350.94 L962.52,2350.72 L963.61,2350.51 L964.69,2350.29 L965.78,2350.07 L966.87,2349.85 L967.95,2349.63 L969.04,2349.40 L970.13,2349.18 L971.22,2348.95 L972.30,2348.73 L973.39,2348.50 L974.48,2348.27 L975.57,2348.04 L976.65,2347.81 L977.74,2347.58 L978.83,2347.35 L979.92,2347.12 L981.00,2346.88 L982.09,2346.65 L983.18,2346.41 L984.27,2346.17 L985.35,2345.93 L986.44,2345.69 L987.53,2345.45 L988.62,2345.21 L989.70,2344.97 L990.79,2344.72 L991.88,2344.48 L992.97,2344.23 L994.05,2343.98 L995.14,2343.73 L996.23,2343.48 L997.31,2343.23 L998.40,2342.98 L999.49,2342.72 L1000.58,2342.47 L1001.66,2342.21 L1002.75,2341.96 L1003.84,2341.70 L1004.93,2341.44 L1006.01,2341.18 L1007.10,2340.92 L1008.19,2340.65 L1009.28,2340.39 L1010.36,2340.12 L1011.45,2339.86 L1012.54,2339.59 L1013.63,2339.32 L1014.71,2339.05 L1015.80,2338.78 L1016.89,2338.50 L1017.98,2338.23 L1019.06,2337.95 L1020.15,2337.68 L1021.24,2337.40 L1022.32,2337.12 L1023.41,2336.84 L1024.50,2336.56 L1025.59,2336.27 L1026.67,2335.99 L1027.76,2335.70 L1028.85,2335.42 L1029.94,2335.13 L1031.02,2334.84 L1032.11,2334.55 L1033.20,2334.25 L1034.29,2333.96 L1035.37,2333.66 L1036.46,2333.37 L1037.55,2333.07 L1038.64,2332.77 L1039.72,2332.47 L1040.81,2332.17 L1041.90,2331.86 L1042.99,2331.56 L1044.07,2331.25 L1045.16,2330.94 L1046.25,2330.63 L1047.34,2330.32 L1048.42,2330.01 L1049.51,2329.70 L1050.60,2329.38 L1051.68,2329.07 L1052.77,2328.75 L1053.86,2328.43 L1054.95,2328.11 L1056.03,2327.79 L1057.12,2327.46 L1058.21,2327.14 L1059.30,2326.81 L1060.38,2326.48 L1061.47,2326.15 L1062.56,2325.82 L1063.65,2325.49 L1064.73,2325.15 L1065.82,2324.82 L1066.91,2324.48 L1068.00,2324.14 L1069.08,2323.80 L1070.17,2323.46 L1071.26,2323.11 L1072.35,2322.77 L1073.43,2322.42 L1074.52,2322.07 L1075.61,2321.72 L1076.69,2321.37 L1077.78,2321.02 L1078.87,2320.66 L1079.96,2320.30 L1081.04,2319.95 L1082.13,2319.59 L1083.22,2319.22 L1084.31,2318.86 L1085.39,2318.50 L1086.48,2318.13 L1087.57,2317.76 L1088.66,2317.39 L1089.74,2317.02 L1090.83,2316.64 L1091.92,2316.27 L1093.01,2315.89 L1094.09,2315.51 L1095.18,2315.13 L1096.27,2314.75 L1097.36,2314.37 L1098.44,2313.98 L1099.53,2313.59 L1100.62,2313.20 L1101.71,2312.81 L1102.79,2312.42 L1103.88,2312.02 L1104.97,2311.63 L1106.05,2311.23 L1107.14,2310.83 L1108.23,2310.43 L1109.32,2310.02 L1110.40,2309.62 L1111.49,2309.21 L1112.58,2308.80 L1113.67,2308.39 L1114.75,2307.97 L1115.84,2307.56 L1116.93,2307.14 L1118.02,2306.72 L1119.10,2306.30 L1120.19,2305.88 L1121.28,2305.45 L1122.37,2305.03 L1123.45,2304.60 L1124.54,2304.17 L1125.63,2303.73 L1126.72,2303.30 L1127.80,2302.86 L1128.89,2302.42 L1129.98,2301.98 L1131.06,2301.54 L1132.15,2301.09 L1133.24,2300.65 L1134.33,2300.20 L1135.41,2299.74 L1136.50,2299.29 L1137.59,2298.84 L1138.68,2298.38 L1139.76,2297.92 L1140.85,2297.46 L1141.94,2296.99 L1143.03,2296.53 L1144.11,2296.06 L1145.20,2295.59 L1146.29,2295.11 L1147.38,2294.64 L1148.46,2294.16 L1149.55,2293.68 L1150.64,2293.20 L1151.73,2292.72 L1152.81,2292.23 L1153.90,2291.74 L1154.99,2291.25 L1156.08,2290.76 L1157.16,2290.27 L1158.25,2289.77 L1159.34,2289.27 L1160.42,2288.77 L1161.51,2288.26 L1162.60,2287.76 L1163.69,2287.25 L1164.77,2286.74 L1165.86,2286.22 L1166.95,2285.71 L1168.04,2285.19 L1169.12,2284.67 L1170.21,2284.15 L1171.30,2283.62 L1172.39,2283.09 L1173.47,2282.56 L1174.56,2282.03 L1175.65,2281.49 L1176.74,2280.96 L1177.82,2280.42 L1178.91,2279.87 L1180.00,2279.33 L1181.09,2278.78 L1182.17,2278.23 L1183.26,2277.68 L1184.35,2277.12 L1185.43,2276.56 L1186.52,2276.00 L1187.61,2275.44 L1188.70,2274.87 L1189.78,2274.30 L1190.87,2273.73 L1191.96,2273.16 L1193.05,2272.58 L1194.13,2272.00 L1195.22,2271.42 L1196.31,2270.84 L1197.40,2270.25 L1198.48,2269.66 L1199.57,2269.07 L1200.66,2268.47 L1201.75,2267.88 L1202.83,2267.28 L1203.92,2266.67 L1205.01,2266.07 L1206.10,2265.46 L1207.18,2264.84 L1208.27,2264.23 L1209.36,2263.61 L1210.45,2262.99 L1211.53,2262.37 L1212.62,2261.74 L1213.71,2261.11 L1214.79,2260.48 L1215.88,2259.85 L1216.97,2259.21 L1218.06,2258.57 L1219.14,2257.92 L1220.23,2257.28 L1221.32,2256.63 L1222.41,2255.97 L1223.49,2255.32 L1224.58,2254.66 L1225.67,2254.00 L1226.76,2253.33 L1227.84,2252.67 L1228.93,2251.99 L1230.02,2251.32 L1231.11,2250.64 L1232.19,2249.96 L1233.28,2249.28 L1234.37,2248.59 L1235.46,2247.90 L1236.54,2247.21 L1237.63,2246.51 L1238.72,2245.81 L1239.80,2245.11 L1240.89,2244.41 L1241.98,2243.70 L1243.07,2242.98 L1244.15,2242.27 L1245.24,2241.55 L1246.33,2240.83 L1247.42,2240.10 L1248.50,2239.37 L1249.59,2238.64 L1250.68,2237.90 L1251.77,2237.16 L1252.85,2236.42 L1253.94,2235.68 L1255.03,2234.93 L1256.12,2234.17 L1257.20,2233.42 L1258.29,2232.66 L1259.38,2231.89 L1260.47,2231.13 L1261.55,2230.36 L1262.64,2229.58 L1263.73,2228.80 L1264.82,2228.02 L1265.90,2227.24 L1266.99,2226.45 L1268.08,2225.66 L1269.16,2224.86 L1270.25,2224.06 L1271.34,2223.26 L1272.43,2222.45 L1273.51,2221.64 L1274.60,2220.83 L1275.69,2220.01 L1276.78,2219.19 L1277.86,2218.36 L1278.95,2217.53 L1280.04,2216.70 L1281.13,2215.86 L1282.21,2215.02 L1283.30,2214.17 L1284.39,2213.32 L1285.48,2212.47 L1286.56,2211.62 L1287.65,2210.75 L1288.74,2209.89 L1289.83,2209.02 L1290.91,2208.15 L1292.00,2207.27 L1293.09,2206.39 L1294.17,2205.51 L1295.26,2204.62 L1296.35,2203.72 L1297.44,2202.83 L1298.52,2201.93 L1299.61,2201.02 L1300.70,2200.11 L1301.79,2199.20 L1302.87,2198.28 L1303.96,2197.36 L1305.05,2196.43 L1306.14,2195.50 L1307.22,2194.56 L1308.31,2193.62 L1309.40,2192.68 L1310.49,2191.73 L1311.57,2190.78 L1312.66,2189.82 L1313.75,2188.86 L1314.84,2187.89 L1315.92,2186.92 L1317.01,2185.95 L1318.10,2184.97 L1319.19,2183.99 L1320.27,2183.00 L1321.36,2182.00 L1322.45,2181.01 L1323.53,2180.00 L1324.62,2179.00 L1325.71,2177.99 L1326.80,2176.97 L1327.88,2175.95 L1328.97,2174.92 L1330.06,2173.89 L1331.15,2172.86 L1332.23,2171.82 L1333.32,2170.77 L1334.41,2169.72 L1335.50,2168.67 L1336.58,2167.61 L1337.67,2166.55 L1338.76,2165.48 L1339.85,2164.40 L1340.93,2163.32 L1342.02,2162.24 L1343.11,2161.15 L1344.20,2160.06 L1345.28,2158.96 L1346.37,2157.85 L1347.46,2156.74 L1348.54,2155.63 L1349.63,2154.51 L1350.72,2153.39 L1351.81,2152.26 L1352.89,2151.12 L1353.98,2149.98 L1355.07,2148.84 L1356.16,2147.68 L1357.24,2146.53 L1358.33,2145.37 L1359.42,2144.20 L1360.51,2143.03 L1361.59,2141.85 L1362.68,2140.67 L1363.77,2139.48 L1364.86,2138.28 L1365.94,2137.08 L1367.03,2135.88 L1368.12,2134.67 L1369.21,2133.45 L1370.29,2132.23 L1371.38,2131.00 L1372.47,2129.77 L1373.56,2128.53 L1374.64,2127.29 L1375.73,2126.03 L1376.82,2124.78 L1377.90,2123.52 L1378.99,2122.25 L1380.08,2120.97 L1381.17,2119.70 L1382.25,2118.41 L1383.34,2117.12 L1384.43,2115.82 L1385.52,2114.52 L1386.60,2113.21 L1387.69,2111.89 L1388.78,2110.57 L1389.87,2109.24 L1390.95,2107.91 L1392.04,2106.57 L1393.13,2105.22 L1394.22,2103.87 L1395.30,2102.51 L1396.39,2101.15 L1397.48,2099.78 L1398.57,2098.40 L1399.65,2097.01 L1400.74,2095.62 L1401.83,2094.23 L1402.91,2092.82 L1404.00,2091.41 L1405.09,2090.00 L1406.18,2088.57 L1407.26,2087.14 L1408.35,2085.71 L1409.44,2084.27 L1410.53,2082.82 L1411.61,2081.36 L1412.70,2079.90 L1413.79,2078.43 L1414.88,2076.95 L1415.96,2075.47 L1417.05,2073.98 L1418.14,2072.48 L1419.23,2070.98 L1420.31,2069.47 L1421.40,2067.95 L1422.49,2066.43 L1423.58,2064.89 L1424.66,2063.35 L1425.75,2061.81 L1426.84,2060.26 L1427.93,2058.70 L1429.01,2057.13 L1430.10,2055.55 L1431.19,2053.97 L1432.27,2052.38 L1433.36,2050.79 L1434.45,2049.18 L1435.54,2047.57 L1436.62,2045.95 L1437.71,2044.32 L1438.80,2042.69 L1439.89,2041.05 L1440.97,2039.40 L1442.06,2037.74 L1443.15,2036.08 L1444.24,2034.41 L1445.32,2032.73 L1446.41,2031.04 L1447.50,2029.34 L1448.59,2027.64 L1449.67,2025.93 L1450.76,2024.21 L1451.85,2022.48 L1452.94,2020.75 L1454.02,2019.01 L1455.11,2017.26 L1456.20,2015.50 L1457.28,2013.73 L1458.37,2011.95 L1459.46,2010.17 L1460.55,2008.38 L1461.63,2006.58 L1462.72,2004.77 L1463.81,2002.95 L1464.90,2001.13 L1465.98,1999.30 L1467.07,1997.45 L1468.16,1995.60 L1469.25,1993.74 L1470.33,1991.88 L1471.42,1990.00 L1472.51,1988.11 L1473.60,1986.22 L1474.68,1984.32 L1475.77,1982.41 L1476.86,1980.49 L1477.95,1978.56 L1479.03,1976.62 L1480.12,1974.67 L1481.21,1972.72 L1482.30,1970.75 L1483.38,1968.78 L1484.47,1966.80 L1485.56,1964.80 L1486.64,1962.80 L1487.73,1960.79 L1488.82,1958.77 L1489.91,1956.74 L1490.99,1954.70 L1492.08,1952.66 L1493.17,1950.60 L1494.26,1948.53 L1495.34,1946.45 L1496.43,1944.37 L1497.52,1942.27 L1498.61,1940.17 L1499.69,1938.05 L1500.78,1935.93 L1501.87,1933.79 L1502.96,1931.65 L1504.04,1929.49 L1505.13,1927.33 L1506.22,1925.15 L1507.31,1922.97 L1508.39,1920.77 L1509.48,1918.57 L1510.57,1916.35 L1511.65,1914.13 L1512.74,1911.89 L1513.83,1909.65 L1514.92,1907.39 L1516.00,1905.12 L1517.09,1902.85 L1518.18,1900.56 L1519.27,1898.26 L1520.35,1895.95 L1521.44,1893.63 L1522.53,1891.30 L1523.62,1888.96 L1524.70,1886.61 L1525.79,1884.24 L1526.88,1881.87 L1527.97,1879.49 L1529.05,1877.09 L1530.14,1874.68 L1531.23,1872.27 L1532.32,1869.84 L1533.40,1867.40 L1534.49,1864.94 L1535.58,1862.48 L1536.67,1860.01 L1537.75,1857.52 L1538.84,1855.02 L1539.93,1852.52 L1541.01,1850.00 L1542.10,1847.46 L1543.19,1844.92 L1544.28,1842.36 L1545.36,1839.80 L1546.45,1837.22 L1547.54,1834.63 L1548.63,1832.02 L1549.71,1829.41 L1550.80,1826.78 L1551.89,1824.14 L1552.98,1821.49 L1554.06,1818.83 L1555.15,1816.15 L1556.24,1813.46 L1557.33,1810.76 L1558.41,1808.05 L1559.50,1805.32 L1560.59,1802.58 L1561.68,1799.83 L1562.76,1797.07 L1563.85,1794.29 L1564.94,1791.50 L1566.02,1788.70 L1567.11,1785.88 L1568.20,1783.06 L1569.29,1780.22 L1570.37,1777.36 L1571.46,1774.49 L1572.55,1771.61 L1573.64,1768.72 L1574.72,1765.81 L1575.81,1762.89 L1576.90,1759.95 L1577.99,1757.01 L1579.07,1754.04 L1580.16,1751.07 L1581.25,1748.08 L1582.34,1745.08 L1583.42,1742.06 L1584.51,1739.03 L1585.60,1735.98 L1586.69,1732.92 L1587.77,1729.85 L1588.86,1726.76 L1589.95,1723.66 L1591.04,1720.55 L1592.12,1717.42 L1593.21,1714.27 L1594.30,1711.11 L1595.38,1707.94 L1596.47,1704.75 L1597.56,1701.55 L1598.65,1698.33 L1599.73,1695.10 L1600.82,1691.85 L1601.91,1688.58 L1603.00,1685.31 L1604.08,1682.01 L1605.17,1678.71 L1606.26,1675.38 L1607.35,1672.04 L1608.43,1668.69 L1609.52,1665.32 L1610.61,1661.93 L1611.70,1658.53 L1612.78,1655.11 L1613.87,1651.68 L1614.96,1648.23 L1616.05,1644.77 L1617.13,1641.29 L1618.22,1637.79 L1619.31,1634.28 L1620.39,1630.75 L1621.48,1627.20 L1622.57,1623.64 L1623.66,1620.06 L1624.74,1616.47 L1625.83,1612.86 L1626.92,1609.23 L1628.01,1605.59 L1629.09,1601.92 L1630.18,1598.25 L1631.27,1594.55 L1632.36,1590.84 L1633.44,1587.11 L1634.53,1583.36 L1635.62,1579.60 L1636.71,1575.81 L1637.79,1572.02 L1638.88,1568.20 L1639.97,1564.36 L1641.06,1560.51 L1642.14,1556.64 L1643.23,1552.75 L1644.32,1548.85 L1645.41,1544.92 L1646.49,1540.98 L1647.58,1537.02 L1648.67,1533.04 L1649.75,1529.05 L1650.84,1525.03 L1651.93,1521.00 L1653.02,1516.95 L1654.10,1512.87 L1655.19,1508.78 L1656.28,1504.68 L1657.37,1500.55 L1658.45,1496.40 L1659.54,1492.23 L1660.63,1488.05 L1661.72,1483.84 L1662.80,1479.62 L1663.89,1475.38 L1664.98,1471.11 L1666.07,1466.83 L1667.15,1462.53 L1668.24,1458.20 L1669.33,1453.86 L1670.42,1449.50 L1671.50,1445.11 L1672.59,1440.71 L1673.21,1438.17" fill="none" stroke="#4F89C0" stroke-width="6.5" stroke-linejoin="round"/>
<rect x="649.80" y="2426.79" width="41.00" height="12.20" rx="1" fill="#00B050"/>
<rect x="812.40" y="2356.60" width="41.00" height="12.20" rx="1" fill="#00B050"/>
<rect x="868.40" y="2269.92" width="41.00" height="12.20" rx="1" fill="#00B050"/>
<rect x="868.40" y="2380.79" width="41.00" height="12.20" rx="1" fill="#00B050"/>
<rect x="903.96" y="2317.96" width="41.00" height="12.20" rx="1" fill="#00B050"/>
<rect x="921.80" y="2286.89" width="41.00" height="12.20" rx="1" fill="#00B050"/>
<rect x="921.80" y="2325.12" width="41.00" height="12.20" rx="1" fill="#00B050"/>
<rect x="975.20" y="2245.59" width="41.00" height="12.20" rx="1" fill="#00B050"/>
<rect x="975.20" y="2271.62" width="41.00" height="12.20" rx="1" fill="#00B050"/>
<rect x="975.20" y="2283.21" width="41.00" height="12.20" rx="1" fill="#00B050"/>
<rect x="975.20" y="2328.11" width="41.00" height="12.20" rx="1" fill="#00B050"/>
<rect x="975.20" y="2336.77" width="41.00" height="12.20" rx="1" fill="#00B050"/>
<rect x="1031.18" y="2245.59" width="41.00" height="12.20" rx="1" fill="#00B050"/>
<rect x="1031.18" y="2291.32" width="41.00" height="12.20" rx="1" fill="#00B050"/>
<rect x="1057.83" y="2186.99" width="41.00" height="12.20" rx="1" fill="#00B050"/>
<rect x="1084.40" y="2185.08" width="41.00" height="12.20" rx="1" fill="#00B050"/>
<rect x="1084.40" y="2218.95" width="41.00" height="12.20" rx="1" fill="#00B050"/>
<rect x="1084.40" y="2268.28" width="41.00" height="12.20" rx="1" fill="#00B050"/>
<rect x="1084.40" y="2335.06" width="41.00" height="12.20" rx="1" fill="#00B050"/>
<rect x="1079.57" y="2349.51" width="41.00" height="12.20" rx="1" fill="#00B050"/>
<rect x="1096.43" y="2189.98" width="41.00" height="12.20" rx="1" fill="#00B050"/>
<rect x="1127.96" y="2305.69" width="41.00" height="12.20" rx="1" fill="#00B050"/>
<rect x="1133.02" y="2378.40" width="41.00" height="12.20" rx="1" fill="#00B050"/>
<rect x="1140.20" y="2192.10" width="41.00" height="12.20" rx="1" fill="#00B050"/>
<rect x="1140.20" y="2344.81" width="41.00" height="12.20" rx="1" fill="#00B050"/>
<rect x="1140.20" y="2361.50" width="41.00" height="12.20" rx="1" fill="#00B050"/>
<rect x="1161.67" y="2129.27" width="41.00" height="12.20" rx="1" fill="#00B050"/>
<rect x="1161.67" y="2179.83" width="41.00" height="12.20" rx="1" fill="#00B050"/>
<rect x="1193.80" y="2132.40" width="41.00" height="12.20" rx="1" fill="#00B050"/>
<rect x="1193.80" y="2186.99" width="41.00" height="12.20" rx="1" fill="#00B050"/>
<rect x="1193.80" y="2296.02" width="41.00" height="12.20" rx="1" fill="#00B050"/>
<rect x="1193.80" y="2426.72" width="41.00" height="12.20" rx="1" fill="#00B050"/>
<rect x="1203.54" y="2243.07" width="41.00" height="12.20" rx="1" fill="#00B050"/>
<rect x="1203.54" y="2265.22" width="41.00" height="12.20" rx="1" fill="#00B050"/>
<rect x="1215.39" y="2262.76" width="41.00" height="12.20" rx="1" fill="#00B050"/>
<rect x="1220.39" y="2233.32" width="41.00" height="12.20" rx="1" fill="#00B050"/>
<rect x="1225.83" y="2136.90" width="41.00" height="12.20" rx="1" fill="#00B050"/>
<rect x="1236.16" y="2095.41" width="41.00" height="12.20" rx="1" fill="#00B050"/>
<rect x="1248.66" y="2097.80" width="41.00" height="12.20" rx="1" fill="#00B050"/>
<rect x="1237.25" y="2142.28" width="41.00" height="12.20" rx="1" fill="#00B050"/>
<rect x="1247.20" y="2163.27" width="41.00" height="12.20" rx="1" fill="#00B050"/>
<rect x="1247.20" y="2216.83" width="41.00" height="12.20" rx="1" fill="#00B050"/>
<rect x="1247.20" y="2293.63" width="41.00" height="12.20" rx="1" fill="#00B050"/>
<rect x="1247.20" y="2416.97" width="41.00" height="12.20" rx="1" fill="#00B050"/>
<rect x="1259.00" y="2182.83" width="41.00" height="12.20" rx="1" fill="#00B050"/>
<rect x="1261.71" y="2359.39" width="41.00" height="12.20" rx="1" fill="#00B050"/>
<rect x="1302.70" y="1928.77" width="41.00" height="12.20" rx="1" fill="#00B050"/>
<rect x="1302.70" y="2023.45" width="41.00" height="12.20" rx="1" fill="#00B050"/>
<rect x="1302.70" y="2040.16" width="41.00" height="12.20" rx="1" fill="#00B050"/>
<rect x="1302.70" y="2109.39" width="41.00" height="12.20" rx="1" fill="#00B050"/>
<rect x="1302.70" y="2122.38" width="41.00" height="12.20" rx="1" fill="#00B050"/>
<rect x="1302.70" y="2146.44" width="41.00" height="12.20" rx="1" fill="#00B050"/>
<rect x="1302.70" y="2165.38" width="41.00" height="12.20" rx="1" fill="#00B050"/>
<rect x="1302.70" y="2267.19" width="41.00" height="12.20" rx="1" fill="#00B050"/>
<rect x="1325.33" y="2250.09" width="41.00" height="12.20" rx="1" fill="#00B050"/>
<rect x="1324.78" y="2090.98" width="41.00" height="12.20" rx="1" fill="#00B050"/>
<rect x="1329.68" y="2180.17" width="41.00" height="12.20" rx="1" fill="#00B050"/>
<rect x="1356.10" y="1904.76" width="41.00" height="12.20" rx="1" fill="#00B050"/>
<rect x="1356.32" y="2170.49" width="41.00" height="12.20" rx="1" fill="#00B050"/>
<rect x="1356.32" y="2240.48" width="41.00" height="12.20" rx="1" fill="#00B050"/>
<rect x="1356.32" y="2260.04" width="41.00" height="12.20" rx="1" fill="#00B050"/>
<rect x="1368.28" y="1986.89" width="41.00" height="12.20" rx="1" fill="#00B050"/>
<rect x="1411.80" y="1839.28" width="41.00" height="12.20" rx="1" fill="#00B050"/>
<rect x="1411.80" y="2074.06" width="41.00" height="12.20" rx="1" fill="#00B050"/>
<rect x="1411.80" y="2116.93" width="41.00" height="12.20" rx="1" fill="#00B050"/>
<rect x="1411.80" y="2148.69" width="41.00" height="12.20" rx="1" fill="#00B050"/>
<rect x="1411.80" y="2160.41" width="41.00" height="12.20" rx="1" fill="#00B050"/>
<rect x="1411.80" y="2228.49" width="41.00" height="12.20" rx="1" fill="#00B050"/>
<rect x="1425.91" y="2030.47" width="41.00" height="12.20" rx="1" fill="#00B050"/>
<rect x="1438.42" y="2141.67" width="41.00" height="12.20" rx="1" fill="#00B050"/>
<rect x="1443.85" y="2327.91" width="41.00" height="12.20" rx="1" fill="#00B050"/>
<rect x="1448.20" y="2267.19" width="41.00" height="12.20" rx="1" fill="#00B050"/>
<rect x="1465.60" y="2002.30" width="41.00" height="12.20" rx="1" fill="#00B050"/>
<rect x="1465.50" y="2116.25" width="41.00" height="12.20" rx="1" fill="#00B050"/>
<rect x="1465.50" y="2226.10" width="41.00" height="12.20" rx="1" fill="#00B050"/>
<rect x="1492.24" y="2240.48" width="41.00" height="12.20" rx="1" fill="#00B050"/>
<rect x="1518.90" y="1842.01" width="41.00" height="12.20" rx="1" fill="#00B050"/>
<rect x="1518.90" y="1878.16" width="41.00" height="12.20" rx="1" fill="#00B050"/>
<rect x="1518.90" y="2119.66" width="41.00" height="12.20" rx="1" fill="#00B050"/>
<rect x="1518.90" y="2124.43" width="41.00" height="12.20" rx="1" fill="#00B050"/>
<rect x="1518.90" y="2204.50" width="41.00" height="12.20" rx="1" fill="#00B050"/>
<rect x="1518.90" y="2310.46" width="41.00" height="12.20" rx="1" fill="#00B050"/>
<rect x="1531.39" y="2361.91" width="41.00" height="12.20" rx="1" fill="#00B050"/>
<rect x="1535.74" y="2262.49" width="41.00" height="12.20" rx="1" fill="#00B050"/>
<rect x="1548.03" y="1994.12" width="41.00" height="12.20" rx="1" fill="#00B050"/>
<rect x="1574.50" y="2096.08" width="41.00" height="12.20" rx="1" fill="#00B050"/>
<rect x="1574.50" y="2160.82" width="41.00" height="12.20" rx="1" fill="#00B050"/>
<rect x="1574.50" y="2302.29" width="41.00" height="12.20" rx="1" fill="#00B050"/>
<rect x="1600.98" y="2240.96" width="41.00" height="12.20" rx="1" fill="#00B050"/>
<rect x="1600.98" y="2267.53" width="41.00" height="12.20" rx="1" fill="#00B050"/>
<rect x="1627.90" y="1999.71" width="41.00" height="12.20" rx="1" fill="#00B050"/>
<rect x="1627.90" y="2015.95" width="41.00" height="12.20" rx="1" fill="#00B050"/>
<rect x="1627.90" y="2211.99" width="41.00" height="12.20" rx="1" fill="#00B050"/>
<rect x="1627.90" y="2260.31" width="41.00" height="12.20" rx="1" fill="#00B050"/>
<rect x="1648.83" y="2221.60" width="41.00" height="12.20" rx="1" fill="#00B050"/>
<rect x="1681.10" y="2183.03" width="41.00" height="12.20" rx="1" fill="#00B050"/>
<rect x="1724.95" y="1964.63" width="41.00" height="12.20" rx="1" fill="#00B050"/>
<rect x="1724.95" y="2185.35" width="41.00" height="12.20" rx="1" fill="#00B050"/>
<rect x="1724.95" y="2313.53" width="41.00" height="12.20" rx="1" fill="#00B050"/>
<rect x="1737.40" y="2052.19" width="41.00" height="12.20" rx="1" fill="#00B050"/>
<rect x="1737.40" y="2279.80" width="41.00" height="12.20" rx="1" fill="#00B050"/>
<rect x="1846.70" y="1853.62" width="41.00" height="12.20" rx="1" fill="#00B050"/>
<rect x="1846.70" y="2064.19" width="41.00" height="12.20" rx="1" fill="#00B050"/>
<rect x="1931.55" y="2243.41" width="41.00" height="12.20" rx="1" fill="#00B050"/>
<rect x="761.45" y="2151.69" width="36.30" height="12.20" rx="1" fill="#C00000"/>
<rect x="761.45" y="2214.52" width="36.30" height="12.20" rx="1" fill="#C00000"/>
<rect x="814.75" y="2146.92" width="36.30" height="12.20" rx="1" fill="#C00000"/>
<rect x="814.75" y="2245.39" width="36.30" height="12.20" rx="1" fill="#C00000"/>
<rect x="814.75" y="2257.99" width="36.30" height="12.20" rx="1" fill="#C00000"/>
<rect x="870.75" y="2260.17" width="36.30" height="12.20" rx="1" fill="#C00000"/>
<rect x="879.12" y="2074.06" width="36.30" height="12.20" rx="1" fill="#C00000"/>
<rect x="892.55" y="2189.98" width="36.30" height="12.20" rx="1" fill="#C00000"/>
<rect x="906.31" y="1986.89" width="36.30" height="12.20" rx="1" fill="#C00000"/>
<rect x="924.15" y="1936.14" width="36.30" height="12.20" rx="1" fill="#C00000"/>
<rect x="924.15" y="2211.79" width="36.30" height="12.20" rx="1" fill="#C00000"/>
<rect x="977.55" y="1926.59" width="36.30" height="12.20" rx="1" fill="#C00000"/>
<rect x="977.55" y="2015.95" width="36.30" height="12.20" rx="1" fill="#C00000"/>
<rect x="977.55" y="2144.19" width="36.30" height="12.20" rx="1" fill="#C00000"/>
<rect x="989.50" y="2081.43" width="36.30" height="12.20" rx="1" fill="#C00000"/>
<rect x="1033.53" y="1960.01" width="36.30" height="12.20" rx="1" fill="#C00000"/>
<rect x="1033.53" y="2006.40" width="36.30" height="12.20" rx="1" fill="#C00000"/>
<rect x="1033.53" y="2105.57" width="36.30" height="12.20" rx="1" fill="#C00000"/>
<rect x="1050.39" y="1902.72" width="36.30" height="12.20" rx="1" fill="#C00000"/>
<rect x="1086.75" y="2067.10" width="36.30" height="12.20" rx="1" fill="#C00000"/>
<rect x="1086.75" y="2090.98" width="36.30" height="12.20" rx="1" fill="#C00000"/>
<rect x="1086.75" y="2112.80" width="36.30" height="12.20" rx="1" fill="#C00000"/>
<rect x="1086.75" y="2128.52" width="36.30" height="12.20" rx="1" fill="#C00000"/>
<rect x="1086.75" y="2143.51" width="36.30" height="12.20" rx="1" fill="#C00000"/>
<rect x="1103.67" y="2042.55" width="36.30" height="12.20" rx="1" fill="#C00000"/>
<rect x="1142.82" y="2110.42" width="36.30" height="12.20" rx="1" fill="#C00000"/>
<rect x="1174.35" y="2076.65" width="36.30" height="12.20" rx="1" fill="#C00000"/>
<rect x="1196.15" y="1894.53" width="36.30" height="12.20" rx="1" fill="#C00000"/>
<rect x="1196.15" y="1972.29" width="36.30" height="12.20" rx="1" fill="#C00000"/>
<rect x="1227.64" y="1962.74" width="36.30" height="12.20" rx="1" fill="#C00000"/>
<rect x="1249.55" y="1928.64" width="36.30" height="12.20" rx="1" fill="#C00000"/>
<line x1="320.00" y1="2462.30" x2="342.50" y2="2462.30" stroke="#818181" stroke-width="2.2"/>
<line x1="320.00" y1="2324.06" x2="342.50" y2="2324.06" stroke="#818181" stroke-width="2.2"/>
<line x1="320.00" y1="2187.77" x2="342.50" y2="2187.77" stroke="#818181" stroke-width="2.2"/>
<line x1="320.00" y1="2051.48" x2="342.50" y2="2051.48" stroke="#818181" stroke-width="2.2"/>
<line x1="320.00" y1="1915.19" x2="342.50" y2="1915.19" stroke="#818181" stroke-width="2.2"/>
<line x1="320.00" y1="1778.90" x2="342.50" y2="1778.90" stroke="#818181" stroke-width="2.2"/>
<line x1="320.00" y1="1642.61" x2="342.50" y2="1642.61" stroke="#818181" stroke-width="2.2"/>
<line x1="320.00" y1="1506.32" x2="342.50" y2="1506.32" stroke="#818181" stroke-width="2.2"/>
<line x1="342.50" y1="2462.30" x2="342.50" y2="2485.00" stroke="#818181" stroke-width="2.2"/>
<line x1="614.55" y1="2462.30" x2="614.55" y2="2485.00" stroke="#818181" stroke-width="2.2"/>
<line x1="886.40" y1="2462.30" x2="886.40" y2="2485.00" stroke="#818181" stroke-width="2.2"/>
<line x1="1158.25" y1="2462.30" x2="1158.25" y2="2485.00" stroke="#818181" stroke-width="2.2"/>
<line x1="1430.10" y1="2462.30" x2="1430.10" y2="2485.00" stroke="#818181" stroke-width="2.2"/>
<line x1="1701.95" y1="2462.30" x2="1701.95" y2="2485.00" stroke="#818181" stroke-width="2.2"/>
<line x1="1973.80" y1="2462.30" x2="1973.80" y2="2485.00" stroke="#818181" stroke-width="2.2"/>
<text class="t" x="241.34" y="2481.35" font-size="63" textLength="35.67" lengthAdjust="spacingAndGlyphs">0</text>
<text class="t" x="170.00" y="2345.06" font-size="63" textLength="107.00" lengthAdjust="spacingAndGlyphs">200</text>
<text class="t" x="170.00" y="2208.77" font-size="63" textLength="107.00" lengthAdjust="spacingAndGlyphs">400</text>
<text class="t" x="170.00" y="2072.48" font-size="63" textLength="107.00" lengthAdjust="spacingAndGlyphs">600</text>
<text class="t" x="170.00" y="1936.19" font-size="63" textLength="107.00" lengthAdjust="spacingAndGlyphs">800</text>
<text class="t" x="134.33" y="1799.90" font-size="63" textLength="142.67" lengthAdjust="spacingAndGlyphs">1000</text>
<text class="t" x="134.33" y="1663.61" font-size="63" textLength="142.67" lengthAdjust="spacingAndGlyphs">1200</text>
<text class="t" x="134.33" y="1527.32" font-size="63" textLength="142.67" lengthAdjust="spacingAndGlyphs">1400</text>
<text class="t" x="324.27" y="2574.00" font-size="63" textLength="35.67" lengthAdjust="spacingAndGlyphs">4</text>
<text class="t" x="569.78" y="2574.00" font-size="63" textLength="89.16" lengthAdjust="spacingAndGlyphs">4<tspan font-weight="bold">.</tspan>5</text>
<text class="t" x="867.83" y="2574.00" font-size="63" textLength="35.67" lengthAdjust="spacingAndGlyphs">5</text>
<text class="t" x="1112.94" y="2574.00" font-size="63" textLength="89.16" lengthAdjust="spacingAndGlyphs">5<tspan font-weight="bold">.</tspan>5</text>
<text class="t" x="1411.25" y="2574.00" font-size="63" textLength="35.67" lengthAdjust="spacingAndGlyphs">6</text>
<text class="t" x="1656.29" y="2574.00" font-size="63" textLength="89.16" lengthAdjust="spacingAndGlyphs">6<tspan font-weight="bold">.</tspan>5</text>
<text class="t" x="1955.13" y="2574.00" font-size="63" textLength="35.67" lengthAdjust="spacingAndGlyphs">7</text>
<text x="447.01" y="1592.00" font-size="84.30" class="t" textLength="107.28" lengthAdjust="spacingAndGlyphs">(B)</text>
<text x="401.00" y="1845.00" font-size="72.50" class="t" textLength="450.72" lengthAdjust="spacingAndGlyphs">unstable zone</text>
<text x="1196.68" y="1612.50" font-size="72.50" class="t" textLength="71.17" lengthAdjust="spacingAndGlyphs">SS</text>
<text x="1269.07" y="1628.40" font-size="47.00" class="t" textLength="63.52" lengthAdjust="spacingAndGlyphs">UA</text>
<text x="1335.58" y="1612.50" font-size="72.50" class="t" textLength="77.54" lengthAdjust="spacingAndGlyphs">=2</text>
<text x="1197.79" y="1709.80" font-size="72.50" class="t" textLength="178.86" lengthAdjust="spacingAndGlyphs">curve</text>
<text x="1637.88" y="1613.00" font-size="72.50" class="t" textLength="333.95" lengthAdjust="spacingAndGlyphs">saturation</text>
<text x="1636.86" y="1709.50" font-size="72.50" class="t" textLength="180.83" lengthAdjust="spacingAndGlyphs">curve</text>
<text x="1587.20" y="2420.70" font-size="72.50" class="t" textLength="366.99" lengthAdjust="spacingAndGlyphs">stable zone</text>
<text x="1108.95" y="2685.20" font-size="74.00" font-weight="bold" textLength="94.11" lengthAdjust="spacingAndGlyphs">pH</text>
<text transform="translate(97.40,2237.20) rotate(-90)" x="-3.97" y="0" font-size="72.7" font-weight="bold" textLength="580.99" lengthAdjust="spacingAndGlyphs">[Uric acid] (mg/L)</text>
</svg>
</body></html>
